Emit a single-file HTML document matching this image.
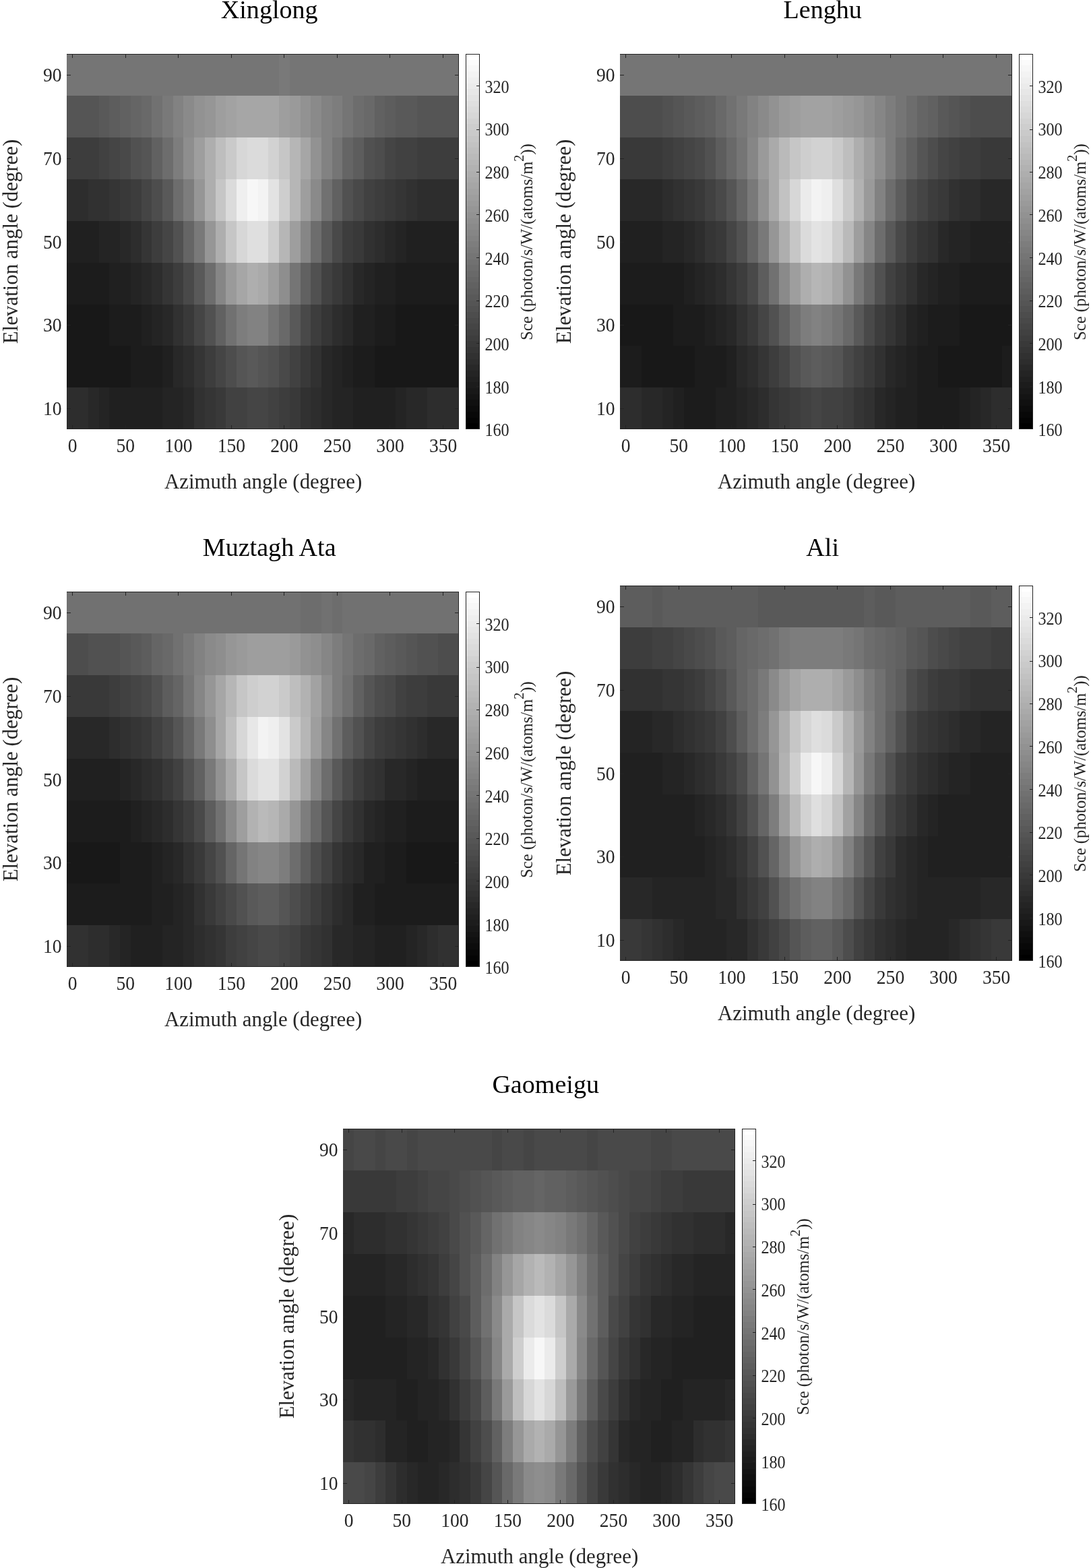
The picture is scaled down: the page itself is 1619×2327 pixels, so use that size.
<!DOCTYPE html>
<html lang="en"><head><meta charset="utf-8">
<title>Sodium laser guide star return flux maps</title>
<style>
html,body{margin:0;padding:0;background:#fff;}
body{width:1619px;height:2327px;overflow:hidden;}
svg{display:block;}
text{font-family:"Liberation Serif","DejaVu Serif",serif;fill:#262626;}
.ti{font-size:38.1px;fill:#000;text-anchor:middle;}
.xl{font-size:30.9px;text-anchor:middle;}
.tk{font-size:27.6px;}
.xt{text-anchor:middle;}
.yt{text-anchor:end;}
.ct{font-size:24.2px;}
.cl{font-size:24.7px;text-anchor:middle;}
.hm{shape-rendering:crispEdges;}
.ax{fill:none;stroke:#232323;stroke-width:1;shape-rendering:crispEdges;}
</style></head><body>
<svg width="1619" height="2327" viewBox="0 0 1619 2327" role="img" aria-label="Return flux maps for five sites">
<g transform="translate(99,80)">
<text class="ti" x="300.7" y="-53.4">Xinglong</text>
<g class="hm">
<rect x="0" y="0" width="315" height="62" fill="#757575"/>
<rect x="315" y="0" width="16" height="62" fill="#797979"/>
<rect x="331" y="0" width="251" height="62" fill="#757575"/>
<rect x="0" y="62" width="48" height="62" fill="#555555"/>
<rect x="48" y="62" width="15" height="62" fill="#595959"/>
<rect x="63" y="62" width="16" height="62" fill="#5d5d5d"/>
<rect x="79" y="62" width="16" height="62" fill="#616161"/>
<rect x="95" y="62" width="16" height="62" fill="#656565"/>
<rect x="111" y="62" width="15" height="62" fill="#696969"/>
<rect x="126" y="62" width="16" height="62" fill="#717171"/>
<rect x="142" y="62" width="16" height="62" fill="#797979"/>
<rect x="158" y="62" width="15" height="62" fill="#828282"/>
<rect x="173" y="62" width="16" height="62" fill="#8a8a8a"/>
<rect x="189" y="62" width="16" height="62" fill="#929292"/>
<rect x="205" y="62" width="16" height="62" fill="#969696"/>
<rect x="221" y="62" width="15" height="62" fill="#9e9e9e"/>
<rect x="236" y="62" width="16" height="62" fill="#a2a2a2"/>
<rect x="252" y="62" width="63" height="62" fill="#a6a6a6"/>
<rect x="315" y="62" width="16" height="62" fill="#9e9e9e"/>
<rect x="331" y="62" width="16" height="62" fill="#9a9a9a"/>
<rect x="347" y="62" width="15" height="62" fill="#929292"/>
<rect x="362" y="62" width="16" height="62" fill="#8a8a8a"/>
<rect x="378" y="62" width="16" height="62" fill="#828282"/>
<rect x="394" y="62" width="15" height="62" fill="#7d7d7d"/>
<rect x="409" y="62" width="16" height="62" fill="#757575"/>
<rect x="425" y="62" width="16" height="62" fill="#6d6d6d"/>
<rect x="441" y="62" width="16" height="62" fill="#696969"/>
<rect x="457" y="62" width="15" height="62" fill="#616161"/>
<rect x="472" y="62" width="16" height="62" fill="#5d5d5d"/>
<rect x="488" y="62" width="32" height="62" fill="#595959"/>
<rect x="520" y="62" width="62" height="62" fill="#555555"/>
<rect x="0" y="124" width="48" height="62" fill="#3d3d3d"/>
<rect x="48" y="124" width="15" height="62" fill="#414141"/>
<rect x="63" y="124" width="16" height="62" fill="#454545"/>
<rect x="79" y="124" width="16" height="62" fill="#494949"/>
<rect x="95" y="124" width="16" height="62" fill="#515151"/>
<rect x="111" y="124" width="15" height="62" fill="#555555"/>
<rect x="126" y="124" width="16" height="62" fill="#616161"/>
<rect x="142" y="124" width="16" height="62" fill="#6d6d6d"/>
<rect x="158" y="124" width="15" height="62" fill="#7d7d7d"/>
<rect x="173" y="124" width="16" height="62" fill="#8e8e8e"/>
<rect x="189" y="124" width="16" height="62" fill="#9e9e9e"/>
<rect x="205" y="124" width="16" height="62" fill="#aeaeae"/>
<rect x="221" y="124" width="15" height="62" fill="#bebebe"/>
<rect x="236" y="124" width="16" height="62" fill="#cacaca"/>
<rect x="252" y="124" width="16" height="62" fill="#d7d7d7"/>
<rect x="268" y="124" width="31" height="62" fill="#dbdbdb"/>
<rect x="299" y="124" width="16" height="62" fill="#d2d2d2"/>
<rect x="315" y="124" width="16" height="62" fill="#c6c6c6"/>
<rect x="331" y="124" width="16" height="62" fill="#b6b6b6"/>
<rect x="347" y="124" width="15" height="62" fill="#a6a6a6"/>
<rect x="362" y="124" width="16" height="62" fill="#929292"/>
<rect x="378" y="124" width="16" height="62" fill="#828282"/>
<rect x="394" y="124" width="15" height="62" fill="#757575"/>
<rect x="409" y="124" width="16" height="62" fill="#656565"/>
<rect x="425" y="124" width="16" height="62" fill="#5d5d5d"/>
<rect x="441" y="124" width="16" height="62" fill="#515151"/>
<rect x="457" y="124" width="15" height="62" fill="#4d4d4d"/>
<rect x="472" y="124" width="16" height="62" fill="#454545"/>
<rect x="488" y="124" width="32" height="62" fill="#414141"/>
<rect x="520" y="124" width="62" height="62" fill="#3d3d3d"/>
<rect x="0" y="186" width="32" height="62" fill="#2d2d2d"/>
<rect x="32" y="186" width="31" height="62" fill="#313131"/>
<rect x="63" y="186" width="16" height="62" fill="#353535"/>
<rect x="79" y="186" width="16" height="62" fill="#393939"/>
<rect x="95" y="186" width="16" height="62" fill="#3d3d3d"/>
<rect x="111" y="186" width="15" height="62" fill="#454545"/>
<rect x="126" y="186" width="16" height="62" fill="#4d4d4d"/>
<rect x="142" y="186" width="16" height="62" fill="#595959"/>
<rect x="158" y="186" width="15" height="62" fill="#6d6d6d"/>
<rect x="173" y="186" width="16" height="62" fill="#7d7d7d"/>
<rect x="189" y="186" width="16" height="62" fill="#969696"/>
<rect x="205" y="186" width="16" height="62" fill="#aeaeae"/>
<rect x="221" y="186" width="15" height="62" fill="#c6c6c6"/>
<rect x="236" y="186" width="16" height="62" fill="#dbdbdb"/>
<rect x="252" y="186" width="16" height="62" fill="#efefef"/>
<rect x="268" y="186" width="16" height="62" fill="#f7f7f7"/>
<rect x="284" y="186" width="15" height="62" fill="#f3f3f3"/>
<rect x="299" y="186" width="16" height="62" fill="#e3e3e3"/>
<rect x="315" y="186" width="16" height="62" fill="#cecece"/>
<rect x="331" y="186" width="16" height="62" fill="#b6b6b6"/>
<rect x="347" y="186" width="15" height="62" fill="#9e9e9e"/>
<rect x="362" y="186" width="16" height="62" fill="#8a8a8a"/>
<rect x="378" y="186" width="16" height="62" fill="#717171"/>
<rect x="394" y="186" width="15" height="62" fill="#616161"/>
<rect x="409" y="186" width="16" height="62" fill="#515151"/>
<rect x="425" y="186" width="16" height="62" fill="#494949"/>
<rect x="441" y="186" width="16" height="62" fill="#414141"/>
<rect x="457" y="186" width="15" height="62" fill="#3d3d3d"/>
<rect x="472" y="186" width="16" height="62" fill="#393939"/>
<rect x="488" y="186" width="16" height="62" fill="#353535"/>
<rect x="504" y="186" width="16" height="62" fill="#313131"/>
<rect x="520" y="186" width="62" height="62" fill="#2d2d2d"/>
<rect x="0" y="248" width="48" height="62" fill="#202020"/>
<rect x="48" y="248" width="31" height="62" fill="#242424"/>
<rect x="79" y="248" width="16" height="62" fill="#282828"/>
<rect x="95" y="248" width="16" height="62" fill="#2d2d2d"/>
<rect x="111" y="248" width="15" height="62" fill="#353535"/>
<rect x="126" y="248" width="16" height="62" fill="#3d3d3d"/>
<rect x="142" y="248" width="16" height="62" fill="#454545"/>
<rect x="158" y="248" width="15" height="62" fill="#515151"/>
<rect x="173" y="248" width="16" height="62" fill="#656565"/>
<rect x="189" y="248" width="16" height="62" fill="#797979"/>
<rect x="205" y="248" width="16" height="62" fill="#969696"/>
<rect x="221" y="248" width="15" height="62" fill="#aeaeae"/>
<rect x="236" y="248" width="16" height="62" fill="#c6c6c6"/>
<rect x="252" y="248" width="16" height="62" fill="#d7d7d7"/>
<rect x="268" y="248" width="31" height="62" fill="#dfdfdf"/>
<rect x="299" y="248" width="16" height="62" fill="#cecece"/>
<rect x="315" y="248" width="16" height="62" fill="#b6b6b6"/>
<rect x="331" y="248" width="16" height="62" fill="#9e9e9e"/>
<rect x="347" y="248" width="15" height="62" fill="#868686"/>
<rect x="362" y="248" width="16" height="62" fill="#6d6d6d"/>
<rect x="378" y="248" width="16" height="62" fill="#595959"/>
<rect x="394" y="248" width="15" height="62" fill="#494949"/>
<rect x="409" y="248" width="16" height="62" fill="#3d3d3d"/>
<rect x="425" y="248" width="16" height="62" fill="#393939"/>
<rect x="441" y="248" width="16" height="62" fill="#313131"/>
<rect x="457" y="248" width="15" height="62" fill="#2d2d2d"/>
<rect x="472" y="248" width="16" height="62" fill="#282828"/>
<rect x="488" y="248" width="16" height="62" fill="#242424"/>
<rect x="504" y="248" width="78" height="62" fill="#202020"/>
<rect x="0" y="310" width="63" height="62" fill="#1c1c1c"/>
<rect x="63" y="310" width="32" height="62" fill="#202020"/>
<rect x="95" y="310" width="16" height="62" fill="#242424"/>
<rect x="111" y="310" width="15" height="62" fill="#282828"/>
<rect x="126" y="310" width="16" height="62" fill="#2d2d2d"/>
<rect x="142" y="310" width="16" height="62" fill="#353535"/>
<rect x="158" y="310" width="15" height="62" fill="#3d3d3d"/>
<rect x="173" y="310" width="16" height="62" fill="#494949"/>
<rect x="189" y="310" width="16" height="62" fill="#595959"/>
<rect x="205" y="310" width="16" height="62" fill="#6d6d6d"/>
<rect x="221" y="310" width="15" height="62" fill="#868686"/>
<rect x="236" y="310" width="16" height="62" fill="#9a9a9a"/>
<rect x="252" y="310" width="16" height="62" fill="#a6a6a6"/>
<rect x="268" y="310" width="16" height="62" fill="#aeaeae"/>
<rect x="284" y="310" width="15" height="62" fill="#aaaaaa"/>
<rect x="299" y="310" width="16" height="62" fill="#9e9e9e"/>
<rect x="315" y="310" width="16" height="62" fill="#8e8e8e"/>
<rect x="331" y="310" width="16" height="62" fill="#757575"/>
<rect x="347" y="310" width="15" height="62" fill="#616161"/>
<rect x="362" y="310" width="16" height="62" fill="#515151"/>
<rect x="378" y="310" width="16" height="62" fill="#414141"/>
<rect x="394" y="310" width="15" height="62" fill="#393939"/>
<rect x="409" y="310" width="16" height="62" fill="#313131"/>
<rect x="425" y="310" width="16" height="62" fill="#282828"/>
<rect x="441" y="310" width="16" height="62" fill="#242424"/>
<rect x="457" y="310" width="31" height="62" fill="#202020"/>
<rect x="488" y="310" width="94" height="62" fill="#1c1c1c"/>
<rect x="0" y="372" width="63" height="61" fill="#181818"/>
<rect x="63" y="372" width="48" height="61" fill="#1c1c1c"/>
<rect x="111" y="372" width="15" height="61" fill="#202020"/>
<rect x="126" y="372" width="16" height="61" fill="#242424"/>
<rect x="142" y="372" width="16" height="61" fill="#282828"/>
<rect x="158" y="372" width="15" height="61" fill="#313131"/>
<rect x="173" y="372" width="16" height="61" fill="#393939"/>
<rect x="189" y="372" width="16" height="61" fill="#454545"/>
<rect x="205" y="372" width="16" height="61" fill="#515151"/>
<rect x="221" y="372" width="15" height="61" fill="#616161"/>
<rect x="236" y="372" width="16" height="61" fill="#717171"/>
<rect x="252" y="372" width="16" height="61" fill="#7d7d7d"/>
<rect x="268" y="372" width="31" height="61" fill="#828282"/>
<rect x="299" y="372" width="16" height="61" fill="#757575"/>
<rect x="315" y="372" width="16" height="61" fill="#696969"/>
<rect x="331" y="372" width="16" height="61" fill="#595959"/>
<rect x="347" y="372" width="15" height="61" fill="#494949"/>
<rect x="362" y="372" width="16" height="61" fill="#3d3d3d"/>
<rect x="378" y="372" width="16" height="61" fill="#353535"/>
<rect x="394" y="372" width="15" height="61" fill="#2d2d2d"/>
<rect x="409" y="372" width="16" height="61" fill="#282828"/>
<rect x="425" y="372" width="32" height="61" fill="#202020"/>
<rect x="457" y="372" width="31" height="61" fill="#1c1c1c"/>
<rect x="488" y="372" width="94" height="61" fill="#181818"/>
<rect x="0" y="433" width="95" height="62" fill="#181818"/>
<rect x="95" y="433" width="47" height="62" fill="#1c1c1c"/>
<rect x="142" y="433" width="16" height="62" fill="#202020"/>
<rect x="158" y="433" width="15" height="62" fill="#282828"/>
<rect x="173" y="433" width="16" height="62" fill="#2d2d2d"/>
<rect x="189" y="433" width="16" height="62" fill="#353535"/>
<rect x="205" y="433" width="16" height="62" fill="#3d3d3d"/>
<rect x="221" y="433" width="15" height="62" fill="#454545"/>
<rect x="236" y="433" width="16" height="62" fill="#4d4d4d"/>
<rect x="252" y="433" width="16" height="62" fill="#555555"/>
<rect x="268" y="433" width="16" height="62" fill="#595959"/>
<rect x="284" y="433" width="15" height="62" fill="#555555"/>
<rect x="299" y="433" width="16" height="62" fill="#515151"/>
<rect x="315" y="433" width="16" height="62" fill="#494949"/>
<rect x="331" y="433" width="16" height="62" fill="#414141"/>
<rect x="347" y="433" width="15" height="62" fill="#393939"/>
<rect x="362" y="433" width="16" height="62" fill="#313131"/>
<rect x="378" y="433" width="16" height="62" fill="#282828"/>
<rect x="394" y="433" width="15" height="62" fill="#242424"/>
<rect x="409" y="433" width="16" height="62" fill="#202020"/>
<rect x="425" y="433" width="32" height="62" fill="#1c1c1c"/>
<rect x="457" y="433" width="125" height="62" fill="#181818"/>
<rect x="0" y="495" width="32" height="62" fill="#2d2d2d"/>
<rect x="32" y="495" width="16" height="62" fill="#282828"/>
<rect x="48" y="495" width="15" height="62" fill="#242424"/>
<rect x="63" y="495" width="79" height="62" fill="#202020"/>
<rect x="142" y="495" width="31" height="62" fill="#242424"/>
<rect x="173" y="495" width="16" height="62" fill="#282828"/>
<rect x="189" y="495" width="16" height="62" fill="#313131"/>
<rect x="205" y="495" width="16" height="62" fill="#353535"/>
<rect x="221" y="495" width="15" height="62" fill="#393939"/>
<rect x="236" y="495" width="32" height="62" fill="#414141"/>
<rect x="268" y="495" width="31" height="62" fill="#454545"/>
<rect x="299" y="495" width="16" height="62" fill="#414141"/>
<rect x="315" y="495" width="16" height="62" fill="#3d3d3d"/>
<rect x="331" y="495" width="16" height="62" fill="#393939"/>
<rect x="347" y="495" width="15" height="62" fill="#313131"/>
<rect x="362" y="495" width="16" height="62" fill="#2d2d2d"/>
<rect x="378" y="495" width="16" height="62" fill="#282828"/>
<rect x="394" y="495" width="31" height="62" fill="#242424"/>
<rect x="425" y="495" width="63" height="62" fill="#202020"/>
<rect x="488" y="495" width="16" height="62" fill="#242424"/>
<rect x="504" y="495" width="31" height="62" fill="#282828"/>
<rect x="535" y="495" width="47" height="62" fill="#2d2d2d"/>
</g>
<path class="ax" d="M0 .5H581.5V556.5H0M8.5 557v-6M8.5 0v6M87.5 557v-6M87.5 0v6M165.5 557v-6M165.5 0v6M244.5 557v-6M244.5 0v6M322.5 557v-6M322.5 0v6M401.5 557v-6M401.5 0v6M479.5 557v-6M479.5 0v6M558.5 557v-6M558.5 0v6M0 526.5h6M582 526.5h-6M0 402.5h6M582 402.5h-6M0 279.5h6M582 279.5h-6M0 155.5h6M582 155.5h-6M0 31.5h6M582 31.5h-6"/>
<g class="tk xt">
<text transform="translate(8.7,591.4) scale(1,1.10)">0</text>
<text transform="translate(87.26,591.4) scale(1,1.10)">50</text>
<text transform="translate(165.82,591.4) scale(1,1.10)">100</text>
<text transform="translate(244.38,591.4) scale(1,1.10)">150</text>
<text transform="translate(322.94,591.4) scale(1,1.10)">200</text>
<text transform="translate(401.5,591.4) scale(1,1.10)">250</text>
<text transform="translate(480.06,591.4) scale(1,1.10)">300</text>
<text transform="translate(558.62,591.4) scale(1,1.10)">350</text>
</g>
<g class="tk yt">
<text transform="translate(-7.5,535.8) scale(1,1.10)">10</text>
<text transform="translate(-7.5,412.3) scale(1,1.10)">30</text>
<text transform="translate(-7.5,288.8) scale(1,1.10)">50</text>
<text transform="translate(-7.5,164.8) scale(1,1.10)">70</text>
<text transform="translate(-7.5,40.8) scale(1,1.10)">90</text>
</g>
<text class="xl" x="291.6" y="644.6">Azimuth angle (degree)</text>
<text class="xl" transform="translate(-72.6,278.5) rotate(-90)">Elevation angle (degree)</text>
<g class="hm"><rect x="592" y="548" width="21" height="9" fill="#000000"/><rect x="592" y="540" width="21" height="8" fill="#040404"/><rect x="592" y="531" width="21" height="9" fill="#080808"/><rect x="592" y="522" width="21" height="9" fill="#0c0c0c"/><rect x="592" y="513" width="21" height="9" fill="#101010"/><rect x="592" y="505" width="21" height="8" fill="#141414"/><rect x="592" y="496" width="21" height="9" fill="#181818"/><rect x="592" y="487" width="21" height="9" fill="#1c1c1c"/><rect x="592" y="479" width="21" height="8" fill="#202020"/><rect x="592" y="470" width="21" height="9" fill="#242424"/><rect x="592" y="461" width="21" height="9" fill="#282828"/><rect x="592" y="453" width="21" height="8" fill="#2d2d2d"/><rect x="592" y="444" width="21" height="9" fill="#313131"/><rect x="592" y="435" width="21" height="9" fill="#353535"/><rect x="592" y="426" width="21" height="9" fill="#393939"/><rect x="592" y="418" width="21" height="8" fill="#3d3d3d"/><rect x="592" y="409" width="21" height="9" fill="#414141"/><rect x="592" y="400" width="21" height="9" fill="#454545"/><rect x="592" y="392" width="21" height="8" fill="#494949"/><rect x="592" y="383" width="21" height="9" fill="#4d4d4d"/><rect x="592" y="374" width="21" height="9" fill="#515151"/><rect x="592" y="366" width="21" height="8" fill="#555555"/><rect x="592" y="357" width="21" height="9" fill="#595959"/><rect x="592" y="348" width="21" height="9" fill="#5d5d5d"/><rect x="592" y="339" width="21" height="9" fill="#616161"/><rect x="592" y="331" width="21" height="8" fill="#656565"/><rect x="592" y="322" width="21" height="9" fill="#696969"/><rect x="592" y="313" width="21" height="9" fill="#6d6d6d"/><rect x="592" y="305" width="21" height="8" fill="#717171"/><rect x="592" y="296" width="21" height="9" fill="#757575"/><rect x="592" y="287" width="21" height="9" fill="#797979"/><rect x="592" y="278" width="21" height="9" fill="#7d7d7d"/><rect x="592" y="270" width="21" height="8" fill="#828282"/><rect x="592" y="261" width="21" height="9" fill="#868686"/><rect x="592" y="252" width="21" height="9" fill="#8a8a8a"/><rect x="592" y="244" width="21" height="8" fill="#8e8e8e"/><rect x="592" y="235" width="21" height="9" fill="#929292"/><rect x="592" y="226" width="21" height="9" fill="#969696"/><rect x="592" y="218" width="21" height="8" fill="#9a9a9a"/><rect x="592" y="209" width="21" height="9" fill="#9e9e9e"/><rect x="592" y="200" width="21" height="9" fill="#a2a2a2"/><rect x="592" y="191" width="21" height="9" fill="#a6a6a6"/><rect x="592" y="183" width="21" height="8" fill="#aaaaaa"/><rect x="592" y="174" width="21" height="9" fill="#aeaeae"/><rect x="592" y="165" width="21" height="9" fill="#b2b2b2"/><rect x="592" y="157" width="21" height="8" fill="#b6b6b6"/><rect x="592" y="148" width="21" height="9" fill="#bababa"/><rect x="592" y="139" width="21" height="9" fill="#bebebe"/><rect x="592" y="131" width="21" height="8" fill="#c2c2c2"/><rect x="592" y="122" width="21" height="9" fill="#c6c6c6"/><rect x="592" y="113" width="21" height="9" fill="#cacaca"/><rect x="592" y="104" width="21" height="9" fill="#cecece"/><rect x="592" y="96" width="21" height="8" fill="#d2d2d2"/><rect x="592" y="87" width="21" height="9" fill="#d7d7d7"/><rect x="592" y="78" width="21" height="9" fill="#dbdbdb"/><rect x="592" y="70" width="21" height="8" fill="#dfdfdf"/><rect x="592" y="61" width="21" height="9" fill="#e3e3e3"/><rect x="592" y="52" width="21" height="9" fill="#e7e7e7"/><rect x="592" y="44" width="21" height="8" fill="#ebebeb"/><rect x="592" y="35" width="21" height="9" fill="#efefef"/><rect x="592" y="26" width="21" height="9" fill="#f3f3f3"/><rect x="592" y="17" width="21" height="9" fill="#f7f7f7"/><rect x="592" y="9" width="21" height="8" fill="#fbfbfb"/><rect x="592" y="0" width="21" height="9" fill="#ffffff"/></g>
<rect class="ax" x="592.5" y=".5" width="20" height="556"/>
<g class="ct">
<text transform="translate(620.4,567.3) scale(1,1.10)">160</text>
<text transform="translate(620.4,503.61) scale(1,1.10)">180</text>
<text transform="translate(620.4,439.91) scale(1,1.10)">200</text>
<text transform="translate(620.4,376.22) scale(1,1.10)">220</text>
<text transform="translate(620.4,312.52) scale(1,1.10)">240</text>
<text transform="translate(620.4,248.83) scale(1,1.10)">260</text>
<text transform="translate(620.4,185.13) scale(1,1.10)">280</text>
<text transform="translate(620.4,121.44) scale(1,1.10)">300</text>
<text transform="translate(620.4,57.74) scale(1,1.10)">320</text>
</g>
<path class="ax" d="M613 493.5h-5M613 429.5h-5M613 366.5h-5M613 302.5h-5M613 238.5h-5M613 175.5h-5M613 112.5h-5M613 47.5h-5"/>
<text class="cl" transform="translate(691,279.1) rotate(-90)">Sce (photon/s/W/(atoms/m<tspan dy="-13" font-size="20">2</tspan><tspan dy="13">))</tspan></text>
</g>
<g transform="translate(920,80)">
<text class="ti" x="300.7" y="-53.4">Lenghu</text>
<g class="hm">
<rect x="0" y="0" width="582" height="62" fill="#757575"/>
<rect x="0" y="62" width="63" height="62" fill="#4d4d4d"/>
<rect x="63" y="62" width="16" height="62" fill="#515151"/>
<rect x="79" y="62" width="16" height="62" fill="#555555"/>
<rect x="95" y="62" width="16" height="62" fill="#595959"/>
<rect x="111" y="62" width="15" height="62" fill="#5d5d5d"/>
<rect x="126" y="62" width="16" height="62" fill="#616161"/>
<rect x="142" y="62" width="16" height="62" fill="#696969"/>
<rect x="158" y="62" width="15" height="62" fill="#717171"/>
<rect x="173" y="62" width="16" height="62" fill="#797979"/>
<rect x="189" y="62" width="16" height="62" fill="#828282"/>
<rect x="205" y="62" width="16" height="62" fill="#8a8a8a"/>
<rect x="221" y="62" width="15" height="62" fill="#929292"/>
<rect x="236" y="62" width="16" height="62" fill="#9a9a9a"/>
<rect x="252" y="62" width="16" height="62" fill="#9e9e9e"/>
<rect x="268" y="62" width="47" height="62" fill="#a2a2a2"/>
<rect x="315" y="62" width="16" height="62" fill="#9e9e9e"/>
<rect x="331" y="62" width="16" height="62" fill="#9a9a9a"/>
<rect x="347" y="62" width="15" height="62" fill="#969696"/>
<rect x="362" y="62" width="16" height="62" fill="#8e8e8e"/>
<rect x="378" y="62" width="16" height="62" fill="#868686"/>
<rect x="394" y="62" width="15" height="62" fill="#7d7d7d"/>
<rect x="409" y="62" width="16" height="62" fill="#757575"/>
<rect x="425" y="62" width="16" height="62" fill="#6d6d6d"/>
<rect x="441" y="62" width="16" height="62" fill="#656565"/>
<rect x="457" y="62" width="15" height="62" fill="#616161"/>
<rect x="472" y="62" width="16" height="62" fill="#595959"/>
<rect x="488" y="62" width="16" height="62" fill="#555555"/>
<rect x="504" y="62" width="16" height="62" fill="#515151"/>
<rect x="520" y="62" width="62" height="62" fill="#4d4d4d"/>
<rect x="0" y="124" width="63" height="62" fill="#393939"/>
<rect x="63" y="124" width="16" height="62" fill="#3d3d3d"/>
<rect x="79" y="124" width="16" height="62" fill="#414141"/>
<rect x="95" y="124" width="16" height="62" fill="#454545"/>
<rect x="111" y="124" width="15" height="62" fill="#494949"/>
<rect x="126" y="124" width="16" height="62" fill="#515151"/>
<rect x="142" y="124" width="16" height="62" fill="#5d5d5d"/>
<rect x="158" y="124" width="15" height="62" fill="#696969"/>
<rect x="173" y="124" width="16" height="62" fill="#757575"/>
<rect x="189" y="124" width="16" height="62" fill="#868686"/>
<rect x="205" y="124" width="16" height="62" fill="#9a9a9a"/>
<rect x="221" y="124" width="15" height="62" fill="#aaaaaa"/>
<rect x="236" y="124" width="16" height="62" fill="#bababa"/>
<rect x="252" y="124" width="16" height="62" fill="#c6c6c6"/>
<rect x="268" y="124" width="16" height="62" fill="#cecece"/>
<rect x="284" y="124" width="31" height="62" fill="#d2d2d2"/>
<rect x="315" y="124" width="16" height="62" fill="#cacaca"/>
<rect x="331" y="124" width="16" height="62" fill="#bebebe"/>
<rect x="347" y="124" width="15" height="62" fill="#aeaeae"/>
<rect x="362" y="124" width="16" height="62" fill="#9e9e9e"/>
<rect x="378" y="124" width="16" height="62" fill="#8e8e8e"/>
<rect x="394" y="124" width="15" height="62" fill="#7d7d7d"/>
<rect x="409" y="124" width="16" height="62" fill="#6d6d6d"/>
<rect x="425" y="124" width="16" height="62" fill="#616161"/>
<rect x="441" y="124" width="16" height="62" fill="#555555"/>
<rect x="457" y="124" width="15" height="62" fill="#4d4d4d"/>
<rect x="472" y="124" width="16" height="62" fill="#454545"/>
<rect x="488" y="124" width="16" height="62" fill="#414141"/>
<rect x="504" y="124" width="31" height="62" fill="#3d3d3d"/>
<rect x="535" y="124" width="47" height="62" fill="#393939"/>
<rect x="0" y="186" width="63" height="62" fill="#282828"/>
<rect x="63" y="186" width="16" height="62" fill="#2d2d2d"/>
<rect x="79" y="186" width="16" height="62" fill="#313131"/>
<rect x="95" y="186" width="16" height="62" fill="#353535"/>
<rect x="111" y="186" width="15" height="62" fill="#393939"/>
<rect x="126" y="186" width="16" height="62" fill="#414141"/>
<rect x="142" y="186" width="16" height="62" fill="#494949"/>
<rect x="158" y="186" width="15" height="62" fill="#555555"/>
<rect x="173" y="186" width="16" height="62" fill="#656565"/>
<rect x="189" y="186" width="16" height="62" fill="#797979"/>
<rect x="205" y="186" width="16" height="62" fill="#929292"/>
<rect x="221" y="186" width="15" height="62" fill="#aaaaaa"/>
<rect x="236" y="186" width="16" height="62" fill="#c2c2c2"/>
<rect x="252" y="186" width="16" height="62" fill="#d7d7d7"/>
<rect x="268" y="186" width="16" height="62" fill="#ebebeb"/>
<rect x="284" y="186" width="15" height="62" fill="#f3f3f3"/>
<rect x="299" y="186" width="16" height="62" fill="#efefef"/>
<rect x="315" y="186" width="16" height="62" fill="#dfdfdf"/>
<rect x="331" y="186" width="16" height="62" fill="#cacaca"/>
<rect x="347" y="186" width="15" height="62" fill="#b2b2b2"/>
<rect x="362" y="186" width="16" height="62" fill="#9a9a9a"/>
<rect x="378" y="186" width="16" height="62" fill="#828282"/>
<rect x="394" y="186" width="15" height="62" fill="#6d6d6d"/>
<rect x="409" y="186" width="16" height="62" fill="#5d5d5d"/>
<rect x="425" y="186" width="16" height="62" fill="#4d4d4d"/>
<rect x="441" y="186" width="16" height="62" fill="#454545"/>
<rect x="457" y="186" width="15" height="62" fill="#3d3d3d"/>
<rect x="472" y="186" width="16" height="62" fill="#393939"/>
<rect x="488" y="186" width="16" height="62" fill="#313131"/>
<rect x="504" y="186" width="31" height="62" fill="#2d2d2d"/>
<rect x="535" y="186" width="47" height="62" fill="#282828"/>
<rect x="0" y="248" width="63" height="62" fill="#202020"/>
<rect x="63" y="248" width="32" height="62" fill="#242424"/>
<rect x="95" y="248" width="16" height="62" fill="#282828"/>
<rect x="111" y="248" width="15" height="62" fill="#2d2d2d"/>
<rect x="126" y="248" width="16" height="62" fill="#353535"/>
<rect x="142" y="248" width="16" height="62" fill="#393939"/>
<rect x="158" y="248" width="15" height="62" fill="#454545"/>
<rect x="173" y="248" width="16" height="62" fill="#515151"/>
<rect x="189" y="248" width="16" height="62" fill="#656565"/>
<rect x="205" y="248" width="16" height="62" fill="#797979"/>
<rect x="221" y="248" width="15" height="62" fill="#969696"/>
<rect x="236" y="248" width="16" height="62" fill="#aeaeae"/>
<rect x="252" y="248" width="16" height="62" fill="#c6c6c6"/>
<rect x="268" y="248" width="16" height="62" fill="#dbdbdb"/>
<rect x="284" y="248" width="15" height="62" fill="#e3e3e3"/>
<rect x="299" y="248" width="16" height="62" fill="#dfdfdf"/>
<rect x="315" y="248" width="16" height="62" fill="#cecece"/>
<rect x="331" y="248" width="16" height="62" fill="#bababa"/>
<rect x="347" y="248" width="15" height="62" fill="#9e9e9e"/>
<rect x="362" y="248" width="16" height="62" fill="#868686"/>
<rect x="378" y="248" width="16" height="62" fill="#6d6d6d"/>
<rect x="394" y="248" width="15" height="62" fill="#595959"/>
<rect x="409" y="248" width="16" height="62" fill="#494949"/>
<rect x="425" y="248" width="16" height="62" fill="#3d3d3d"/>
<rect x="441" y="248" width="16" height="62" fill="#353535"/>
<rect x="457" y="248" width="15" height="62" fill="#313131"/>
<rect x="472" y="248" width="16" height="62" fill="#282828"/>
<rect x="488" y="248" width="32" height="62" fill="#242424"/>
<rect x="520" y="248" width="62" height="62" fill="#202020"/>
<rect x="0" y="310" width="95" height="62" fill="#1c1c1c"/>
<rect x="95" y="310" width="16" height="62" fill="#202020"/>
<rect x="111" y="310" width="15" height="62" fill="#242424"/>
<rect x="126" y="310" width="16" height="62" fill="#282828"/>
<rect x="142" y="310" width="16" height="62" fill="#2d2d2d"/>
<rect x="158" y="310" width="15" height="62" fill="#353535"/>
<rect x="173" y="310" width="16" height="62" fill="#3d3d3d"/>
<rect x="189" y="310" width="16" height="62" fill="#494949"/>
<rect x="205" y="310" width="16" height="62" fill="#5d5d5d"/>
<rect x="221" y="310" width="15" height="62" fill="#717171"/>
<rect x="236" y="310" width="16" height="62" fill="#8a8a8a"/>
<rect x="252" y="310" width="16" height="62" fill="#9e9e9e"/>
<rect x="268" y="310" width="16" height="62" fill="#aeaeae"/>
<rect x="284" y="310" width="15" height="62" fill="#b6b6b6"/>
<rect x="299" y="310" width="16" height="62" fill="#b2b2b2"/>
<rect x="315" y="310" width="16" height="62" fill="#a6a6a6"/>
<rect x="331" y="310" width="16" height="62" fill="#929292"/>
<rect x="347" y="310" width="15" height="62" fill="#797979"/>
<rect x="362" y="310" width="16" height="62" fill="#656565"/>
<rect x="378" y="310" width="16" height="62" fill="#515151"/>
<rect x="394" y="310" width="15" height="62" fill="#414141"/>
<rect x="409" y="310" width="16" height="62" fill="#393939"/>
<rect x="425" y="310" width="16" height="62" fill="#313131"/>
<rect x="441" y="310" width="16" height="62" fill="#282828"/>
<rect x="457" y="310" width="15" height="62" fill="#242424"/>
<rect x="472" y="310" width="32" height="62" fill="#202020"/>
<rect x="504" y="310" width="78" height="62" fill="#1c1c1c"/>
<rect x="0" y="372" width="79" height="61" fill="#181818"/>
<rect x="79" y="372" width="47" height="61" fill="#1c1c1c"/>
<rect x="126" y="372" width="16" height="61" fill="#202020"/>
<rect x="142" y="372" width="16" height="61" fill="#242424"/>
<rect x="158" y="372" width="15" height="61" fill="#282828"/>
<rect x="173" y="372" width="16" height="61" fill="#313131"/>
<rect x="189" y="372" width="16" height="61" fill="#393939"/>
<rect x="205" y="372" width="16" height="61" fill="#454545"/>
<rect x="221" y="372" width="15" height="61" fill="#515151"/>
<rect x="236" y="372" width="16" height="61" fill="#616161"/>
<rect x="252" y="372" width="16" height="61" fill="#717171"/>
<rect x="268" y="372" width="16" height="61" fill="#7d7d7d"/>
<rect x="284" y="372" width="15" height="61" fill="#828282"/>
<rect x="299" y="372" width="16" height="61" fill="#7d7d7d"/>
<rect x="315" y="372" width="16" height="61" fill="#757575"/>
<rect x="331" y="372" width="16" height="61" fill="#696969"/>
<rect x="347" y="372" width="15" height="61" fill="#595959"/>
<rect x="362" y="372" width="16" height="61" fill="#494949"/>
<rect x="378" y="372" width="16" height="61" fill="#3d3d3d"/>
<rect x="394" y="372" width="15" height="61" fill="#353535"/>
<rect x="409" y="372" width="16" height="61" fill="#2d2d2d"/>
<rect x="425" y="372" width="16" height="61" fill="#242424"/>
<rect x="441" y="372" width="16" height="61" fill="#202020"/>
<rect x="457" y="372" width="47" height="61" fill="#1c1c1c"/>
<rect x="504" y="372" width="78" height="61" fill="#181818"/>
<rect x="0" y="433" width="32" height="62" fill="#1c1c1c"/>
<rect x="32" y="433" width="79" height="62" fill="#181818"/>
<rect x="111" y="433" width="47" height="62" fill="#1c1c1c"/>
<rect x="158" y="433" width="15" height="62" fill="#202020"/>
<rect x="173" y="433" width="16" height="62" fill="#282828"/>
<rect x="189" y="433" width="16" height="62" fill="#2d2d2d"/>
<rect x="205" y="433" width="16" height="62" fill="#353535"/>
<rect x="221" y="433" width="15" height="62" fill="#3d3d3d"/>
<rect x="236" y="433" width="16" height="62" fill="#454545"/>
<rect x="252" y="433" width="16" height="62" fill="#515151"/>
<rect x="268" y="433" width="16" height="62" fill="#595959"/>
<rect x="284" y="433" width="15" height="62" fill="#5d5d5d"/>
<rect x="299" y="433" width="16" height="62" fill="#595959"/>
<rect x="315" y="433" width="16" height="62" fill="#555555"/>
<rect x="331" y="433" width="16" height="62" fill="#494949"/>
<rect x="347" y="433" width="15" height="62" fill="#414141"/>
<rect x="362" y="433" width="16" height="62" fill="#393939"/>
<rect x="378" y="433" width="16" height="62" fill="#313131"/>
<rect x="394" y="433" width="15" height="62" fill="#282828"/>
<rect x="409" y="433" width="16" height="62" fill="#242424"/>
<rect x="425" y="433" width="16" height="62" fill="#202020"/>
<rect x="441" y="433" width="31" height="62" fill="#1c1c1c"/>
<rect x="472" y="433" width="95" height="62" fill="#181818"/>
<rect x="567" y="433" width="15" height="62" fill="#1c1c1c"/>
<rect x="0" y="495" width="32" height="62" fill="#2d2d2d"/>
<rect x="32" y="495" width="31" height="62" fill="#282828"/>
<rect x="63" y="495" width="16" height="62" fill="#242424"/>
<rect x="79" y="495" width="16" height="62" fill="#202020"/>
<rect x="95" y="495" width="47" height="62" fill="#1c1c1c"/>
<rect x="142" y="495" width="31" height="62" fill="#202020"/>
<rect x="173" y="495" width="16" height="62" fill="#242424"/>
<rect x="189" y="495" width="16" height="62" fill="#282828"/>
<rect x="205" y="495" width="16" height="62" fill="#2d2d2d"/>
<rect x="221" y="495" width="15" height="62" fill="#353535"/>
<rect x="236" y="495" width="16" height="62" fill="#393939"/>
<rect x="252" y="495" width="16" height="62" fill="#3d3d3d"/>
<rect x="268" y="495" width="16" height="62" fill="#414141"/>
<rect x="284" y="495" width="15" height="62" fill="#454545"/>
<rect x="299" y="495" width="32" height="62" fill="#414141"/>
<rect x="331" y="495" width="16" height="62" fill="#3d3d3d"/>
<rect x="347" y="495" width="15" height="62" fill="#353535"/>
<rect x="362" y="495" width="16" height="62" fill="#313131"/>
<rect x="378" y="495" width="16" height="62" fill="#282828"/>
<rect x="394" y="495" width="15" height="62" fill="#242424"/>
<rect x="409" y="495" width="32" height="62" fill="#202020"/>
<rect x="441" y="495" width="63" height="62" fill="#1c1c1c"/>
<rect x="504" y="495" width="16" height="62" fill="#202020"/>
<rect x="520" y="495" width="15" height="62" fill="#242424"/>
<rect x="535" y="495" width="16" height="62" fill="#282828"/>
<rect x="551" y="495" width="31" height="62" fill="#2d2d2d"/>
</g>
<path class="ax" d="M0 .5H581.5V556.5H0M8.5 557v-6M8.5 0v6M87.5 557v-6M87.5 0v6M165.5 557v-6M165.5 0v6M244.5 557v-6M244.5 0v6M322.5 557v-6M322.5 0v6M401.5 557v-6M401.5 0v6M479.5 557v-6M479.5 0v6M558.5 557v-6M558.5 0v6M0 526.5h6M582 526.5h-6M0 402.5h6M582 402.5h-6M0 279.5h6M582 279.5h-6M0 155.5h6M582 155.5h-6M0 31.5h6M582 31.5h-6"/>
<g class="tk xt">
<text transform="translate(8.7,591.4) scale(1,1.10)">0</text>
<text transform="translate(87.26,591.4) scale(1,1.10)">50</text>
<text transform="translate(165.82,591.4) scale(1,1.10)">100</text>
<text transform="translate(244.38,591.4) scale(1,1.10)">150</text>
<text transform="translate(322.94,591.4) scale(1,1.10)">200</text>
<text transform="translate(401.5,591.4) scale(1,1.10)">250</text>
<text transform="translate(480.06,591.4) scale(1,1.10)">300</text>
<text transform="translate(558.62,591.4) scale(1,1.10)">350</text>
</g>
<g class="tk yt">
<text transform="translate(-7.5,535.8) scale(1,1.10)">10</text>
<text transform="translate(-7.5,412.3) scale(1,1.10)">30</text>
<text transform="translate(-7.5,288.8) scale(1,1.10)">50</text>
<text transform="translate(-7.5,164.8) scale(1,1.10)">70</text>
<text transform="translate(-7.5,40.8) scale(1,1.10)">90</text>
</g>
<text class="xl" x="291.6" y="644.6">Azimuth angle (degree)</text>
<text class="xl" transform="translate(-72.6,278.5) rotate(-90)">Elevation angle (degree)</text>
<g class="hm"><rect x="592" y="548" width="21" height="9" fill="#000000"/><rect x="592" y="540" width="21" height="8" fill="#040404"/><rect x="592" y="531" width="21" height="9" fill="#080808"/><rect x="592" y="522" width="21" height="9" fill="#0c0c0c"/><rect x="592" y="513" width="21" height="9" fill="#101010"/><rect x="592" y="505" width="21" height="8" fill="#141414"/><rect x="592" y="496" width="21" height="9" fill="#181818"/><rect x="592" y="487" width="21" height="9" fill="#1c1c1c"/><rect x="592" y="479" width="21" height="8" fill="#202020"/><rect x="592" y="470" width="21" height="9" fill="#242424"/><rect x="592" y="461" width="21" height="9" fill="#282828"/><rect x="592" y="453" width="21" height="8" fill="#2d2d2d"/><rect x="592" y="444" width="21" height="9" fill="#313131"/><rect x="592" y="435" width="21" height="9" fill="#353535"/><rect x="592" y="426" width="21" height="9" fill="#393939"/><rect x="592" y="418" width="21" height="8" fill="#3d3d3d"/><rect x="592" y="409" width="21" height="9" fill="#414141"/><rect x="592" y="400" width="21" height="9" fill="#454545"/><rect x="592" y="392" width="21" height="8" fill="#494949"/><rect x="592" y="383" width="21" height="9" fill="#4d4d4d"/><rect x="592" y="374" width="21" height="9" fill="#515151"/><rect x="592" y="366" width="21" height="8" fill="#555555"/><rect x="592" y="357" width="21" height="9" fill="#595959"/><rect x="592" y="348" width="21" height="9" fill="#5d5d5d"/><rect x="592" y="339" width="21" height="9" fill="#616161"/><rect x="592" y="331" width="21" height="8" fill="#656565"/><rect x="592" y="322" width="21" height="9" fill="#696969"/><rect x="592" y="313" width="21" height="9" fill="#6d6d6d"/><rect x="592" y="305" width="21" height="8" fill="#717171"/><rect x="592" y="296" width="21" height="9" fill="#757575"/><rect x="592" y="287" width="21" height="9" fill="#797979"/><rect x="592" y="278" width="21" height="9" fill="#7d7d7d"/><rect x="592" y="270" width="21" height="8" fill="#828282"/><rect x="592" y="261" width="21" height="9" fill="#868686"/><rect x="592" y="252" width="21" height="9" fill="#8a8a8a"/><rect x="592" y="244" width="21" height="8" fill="#8e8e8e"/><rect x="592" y="235" width="21" height="9" fill="#929292"/><rect x="592" y="226" width="21" height="9" fill="#969696"/><rect x="592" y="218" width="21" height="8" fill="#9a9a9a"/><rect x="592" y="209" width="21" height="9" fill="#9e9e9e"/><rect x="592" y="200" width="21" height="9" fill="#a2a2a2"/><rect x="592" y="191" width="21" height="9" fill="#a6a6a6"/><rect x="592" y="183" width="21" height="8" fill="#aaaaaa"/><rect x="592" y="174" width="21" height="9" fill="#aeaeae"/><rect x="592" y="165" width="21" height="9" fill="#b2b2b2"/><rect x="592" y="157" width="21" height="8" fill="#b6b6b6"/><rect x="592" y="148" width="21" height="9" fill="#bababa"/><rect x="592" y="139" width="21" height="9" fill="#bebebe"/><rect x="592" y="131" width="21" height="8" fill="#c2c2c2"/><rect x="592" y="122" width="21" height="9" fill="#c6c6c6"/><rect x="592" y="113" width="21" height="9" fill="#cacaca"/><rect x="592" y="104" width="21" height="9" fill="#cecece"/><rect x="592" y="96" width="21" height="8" fill="#d2d2d2"/><rect x="592" y="87" width="21" height="9" fill="#d7d7d7"/><rect x="592" y="78" width="21" height="9" fill="#dbdbdb"/><rect x="592" y="70" width="21" height="8" fill="#dfdfdf"/><rect x="592" y="61" width="21" height="9" fill="#e3e3e3"/><rect x="592" y="52" width="21" height="9" fill="#e7e7e7"/><rect x="592" y="44" width="21" height="8" fill="#ebebeb"/><rect x="592" y="35" width="21" height="9" fill="#efefef"/><rect x="592" y="26" width="21" height="9" fill="#f3f3f3"/><rect x="592" y="17" width="21" height="9" fill="#f7f7f7"/><rect x="592" y="9" width="21" height="8" fill="#fbfbfb"/><rect x="592" y="0" width="21" height="9" fill="#ffffff"/></g>
<rect class="ax" x="592.5" y=".5" width="20" height="556"/>
<g class="ct">
<text transform="translate(620.4,567.3) scale(1,1.10)">160</text>
<text transform="translate(620.4,503.61) scale(1,1.10)">180</text>
<text transform="translate(620.4,439.91) scale(1,1.10)">200</text>
<text transform="translate(620.4,376.22) scale(1,1.10)">220</text>
<text transform="translate(620.4,312.52) scale(1,1.10)">240</text>
<text transform="translate(620.4,248.83) scale(1,1.10)">260</text>
<text transform="translate(620.4,185.13) scale(1,1.10)">280</text>
<text transform="translate(620.4,121.44) scale(1,1.10)">300</text>
<text transform="translate(620.4,57.74) scale(1,1.10)">320</text>
</g>
<path class="ax" d="M613 493.5h-5M613 429.5h-5M613 366.5h-5M613 302.5h-5M613 238.5h-5M613 175.5h-5M613 112.5h-5M613 47.5h-5"/>
<text class="cl" transform="translate(691,279.1) rotate(-90)">Sce (photon/s/W/(atoms/m<tspan dy="-13" font-size="20">2</tspan><tspan dy="13">))</tspan></text>
</g>
<g transform="translate(99,878)">
<text class="ti" x="300.7" y="-53.4">Muztagh Ata</text>
<g class="hm">
<rect x="0" y="0" width="347" height="62" fill="#717171"/>
<rect x="347" y="0" width="31" height="62" fill="#6d6d6d"/>
<rect x="378" y="0" width="16" height="62" fill="#717171"/>
<rect x="394" y="0" width="15" height="62" fill="#6d6d6d"/>
<rect x="409" y="0" width="173" height="62" fill="#717171"/>
<rect x="0" y="62" width="32" height="62" fill="#4d4d4d"/>
<rect x="32" y="62" width="47" height="62" fill="#515151"/>
<rect x="79" y="62" width="16" height="62" fill="#555555"/>
<rect x="95" y="62" width="16" height="62" fill="#595959"/>
<rect x="111" y="62" width="15" height="62" fill="#5d5d5d"/>
<rect x="126" y="62" width="16" height="62" fill="#656565"/>
<rect x="142" y="62" width="16" height="62" fill="#696969"/>
<rect x="158" y="62" width="15" height="62" fill="#717171"/>
<rect x="173" y="62" width="16" height="62" fill="#797979"/>
<rect x="189" y="62" width="16" height="62" fill="#828282"/>
<rect x="205" y="62" width="16" height="62" fill="#8a8a8a"/>
<rect x="221" y="62" width="15" height="62" fill="#8e8e8e"/>
<rect x="236" y="62" width="16" height="62" fill="#969696"/>
<rect x="252" y="62" width="16" height="62" fill="#9a9a9a"/>
<rect x="268" y="62" width="63" height="62" fill="#9e9e9e"/>
<rect x="331" y="62" width="16" height="62" fill="#9a9a9a"/>
<rect x="347" y="62" width="15" height="62" fill="#929292"/>
<rect x="362" y="62" width="16" height="62" fill="#8e8e8e"/>
<rect x="378" y="62" width="16" height="62" fill="#868686"/>
<rect x="394" y="62" width="15" height="62" fill="#7d7d7d"/>
<rect x="409" y="62" width="16" height="62" fill="#757575"/>
<rect x="425" y="62" width="16" height="62" fill="#6d6d6d"/>
<rect x="441" y="62" width="16" height="62" fill="#696969"/>
<rect x="457" y="62" width="15" height="62" fill="#616161"/>
<rect x="472" y="62" width="16" height="62" fill="#5d5d5d"/>
<rect x="488" y="62" width="16" height="62" fill="#595959"/>
<rect x="504" y="62" width="16" height="62" fill="#555555"/>
<rect x="520" y="62" width="31" height="62" fill="#515151"/>
<rect x="551" y="62" width="31" height="62" fill="#4d4d4d"/>
<rect x="0" y="124" width="63" height="62" fill="#393939"/>
<rect x="63" y="124" width="16" height="62" fill="#3d3d3d"/>
<rect x="79" y="124" width="16" height="62" fill="#414141"/>
<rect x="95" y="124" width="16" height="62" fill="#454545"/>
<rect x="111" y="124" width="15" height="62" fill="#494949"/>
<rect x="126" y="124" width="16" height="62" fill="#515151"/>
<rect x="142" y="124" width="16" height="62" fill="#5d5d5d"/>
<rect x="158" y="124" width="15" height="62" fill="#656565"/>
<rect x="173" y="124" width="16" height="62" fill="#757575"/>
<rect x="189" y="124" width="16" height="62" fill="#868686"/>
<rect x="205" y="124" width="16" height="62" fill="#969696"/>
<rect x="221" y="124" width="15" height="62" fill="#a6a6a6"/>
<rect x="236" y="124" width="16" height="62" fill="#b6b6b6"/>
<rect x="252" y="124" width="16" height="62" fill="#c6c6c6"/>
<rect x="268" y="124" width="16" height="62" fill="#cecece"/>
<rect x="284" y="124" width="31" height="62" fill="#d2d2d2"/>
<rect x="315" y="124" width="16" height="62" fill="#cacaca"/>
<rect x="331" y="124" width="16" height="62" fill="#bebebe"/>
<rect x="347" y="124" width="15" height="62" fill="#b2b2b2"/>
<rect x="362" y="124" width="16" height="62" fill="#a2a2a2"/>
<rect x="378" y="124" width="16" height="62" fill="#8e8e8e"/>
<rect x="394" y="124" width="15" height="62" fill="#7d7d7d"/>
<rect x="409" y="124" width="16" height="62" fill="#717171"/>
<rect x="425" y="124" width="16" height="62" fill="#616161"/>
<rect x="441" y="124" width="16" height="62" fill="#555555"/>
<rect x="457" y="124" width="15" height="62" fill="#4d4d4d"/>
<rect x="472" y="124" width="16" height="62" fill="#494949"/>
<rect x="488" y="124" width="16" height="62" fill="#414141"/>
<rect x="504" y="124" width="31" height="62" fill="#3d3d3d"/>
<rect x="535" y="124" width="47" height="62" fill="#393939"/>
<rect x="0" y="186" width="63" height="62" fill="#282828"/>
<rect x="63" y="186" width="16" height="62" fill="#2d2d2d"/>
<rect x="79" y="186" width="16" height="62" fill="#313131"/>
<rect x="95" y="186" width="16" height="62" fill="#353535"/>
<rect x="111" y="186" width="15" height="62" fill="#393939"/>
<rect x="126" y="186" width="16" height="62" fill="#414141"/>
<rect x="142" y="186" width="16" height="62" fill="#494949"/>
<rect x="158" y="186" width="15" height="62" fill="#555555"/>
<rect x="173" y="186" width="16" height="62" fill="#656565"/>
<rect x="189" y="186" width="16" height="62" fill="#797979"/>
<rect x="205" y="186" width="16" height="62" fill="#8e8e8e"/>
<rect x="221" y="186" width="15" height="62" fill="#a6a6a6"/>
<rect x="236" y="186" width="16" height="62" fill="#bebebe"/>
<rect x="252" y="186" width="16" height="62" fill="#d7d7d7"/>
<rect x="268" y="186" width="16" height="62" fill="#e7e7e7"/>
<rect x="284" y="186" width="15" height="62" fill="#f3f3f3"/>
<rect x="299" y="186" width="16" height="62" fill="#efefef"/>
<rect x="315" y="186" width="16" height="62" fill="#e3e3e3"/>
<rect x="331" y="186" width="16" height="62" fill="#cacaca"/>
<rect x="347" y="186" width="15" height="62" fill="#b6b6b6"/>
<rect x="362" y="186" width="16" height="62" fill="#9e9e9e"/>
<rect x="378" y="186" width="16" height="62" fill="#868686"/>
<rect x="394" y="186" width="15" height="62" fill="#717171"/>
<rect x="409" y="186" width="16" height="62" fill="#5d5d5d"/>
<rect x="425" y="186" width="16" height="62" fill="#515151"/>
<rect x="441" y="186" width="16" height="62" fill="#454545"/>
<rect x="457" y="186" width="15" height="62" fill="#3d3d3d"/>
<rect x="472" y="186" width="16" height="62" fill="#393939"/>
<rect x="488" y="186" width="16" height="62" fill="#353535"/>
<rect x="504" y="186" width="16" height="62" fill="#313131"/>
<rect x="520" y="186" width="15" height="62" fill="#2d2d2d"/>
<rect x="535" y="186" width="47" height="62" fill="#282828"/>
<rect x="0" y="248" width="79" height="62" fill="#202020"/>
<rect x="79" y="248" width="16" height="62" fill="#242424"/>
<rect x="95" y="248" width="16" height="62" fill="#282828"/>
<rect x="111" y="248" width="15" height="62" fill="#2d2d2d"/>
<rect x="126" y="248" width="16" height="62" fill="#313131"/>
<rect x="142" y="248" width="16" height="62" fill="#393939"/>
<rect x="158" y="248" width="15" height="62" fill="#414141"/>
<rect x="173" y="248" width="16" height="62" fill="#515151"/>
<rect x="189" y="248" width="16" height="62" fill="#616161"/>
<rect x="205" y="248" width="16" height="62" fill="#797979"/>
<rect x="221" y="248" width="15" height="62" fill="#929292"/>
<rect x="236" y="248" width="16" height="62" fill="#aaaaaa"/>
<rect x="252" y="248" width="16" height="62" fill="#c6c6c6"/>
<rect x="268" y="248" width="16" height="62" fill="#dbdbdb"/>
<rect x="284" y="248" width="31" height="62" fill="#e3e3e3"/>
<rect x="315" y="248" width="16" height="62" fill="#d2d2d2"/>
<rect x="331" y="248" width="16" height="62" fill="#bababa"/>
<rect x="347" y="248" width="15" height="62" fill="#a2a2a2"/>
<rect x="362" y="248" width="16" height="62" fill="#868686"/>
<rect x="378" y="248" width="16" height="62" fill="#6d6d6d"/>
<rect x="394" y="248" width="15" height="62" fill="#595959"/>
<rect x="409" y="248" width="16" height="62" fill="#494949"/>
<rect x="425" y="248" width="16" height="62" fill="#3d3d3d"/>
<rect x="441" y="248" width="16" height="62" fill="#353535"/>
<rect x="457" y="248" width="15" height="62" fill="#313131"/>
<rect x="472" y="248" width="32" height="62" fill="#282828"/>
<rect x="504" y="248" width="16" height="62" fill="#242424"/>
<rect x="520" y="248" width="62" height="62" fill="#202020"/>
<rect x="0" y="310" width="95" height="62" fill="#1c1c1c"/>
<rect x="95" y="310" width="16" height="62" fill="#202020"/>
<rect x="111" y="310" width="15" height="62" fill="#242424"/>
<rect x="126" y="310" width="16" height="62" fill="#282828"/>
<rect x="142" y="310" width="16" height="62" fill="#2d2d2d"/>
<rect x="158" y="310" width="15" height="62" fill="#353535"/>
<rect x="173" y="310" width="16" height="62" fill="#3d3d3d"/>
<rect x="189" y="310" width="16" height="62" fill="#494949"/>
<rect x="205" y="310" width="16" height="62" fill="#5d5d5d"/>
<rect x="221" y="310" width="15" height="62" fill="#717171"/>
<rect x="236" y="310" width="16" height="62" fill="#8a8a8a"/>
<rect x="252" y="310" width="16" height="62" fill="#9e9e9e"/>
<rect x="268" y="310" width="16" height="62" fill="#b2b2b2"/>
<rect x="284" y="310" width="15" height="62" fill="#bababa"/>
<rect x="299" y="310" width="16" height="62" fill="#b6b6b6"/>
<rect x="315" y="310" width="16" height="62" fill="#aaaaaa"/>
<rect x="331" y="310" width="16" height="62" fill="#969696"/>
<rect x="347" y="310" width="15" height="62" fill="#7d7d7d"/>
<rect x="362" y="310" width="16" height="62" fill="#696969"/>
<rect x="378" y="310" width="16" height="62" fill="#555555"/>
<rect x="394" y="310" width="15" height="62" fill="#454545"/>
<rect x="409" y="310" width="16" height="62" fill="#393939"/>
<rect x="425" y="310" width="16" height="62" fill="#313131"/>
<rect x="441" y="310" width="16" height="62" fill="#282828"/>
<rect x="457" y="310" width="15" height="62" fill="#242424"/>
<rect x="472" y="310" width="32" height="62" fill="#202020"/>
<rect x="504" y="310" width="78" height="62" fill="#1c1c1c"/>
<rect x="0" y="372" width="79" height="61" fill="#181818"/>
<rect x="79" y="372" width="47" height="61" fill="#1c1c1c"/>
<rect x="126" y="372" width="16" height="61" fill="#202020"/>
<rect x="142" y="372" width="16" height="61" fill="#242424"/>
<rect x="158" y="372" width="15" height="61" fill="#282828"/>
<rect x="173" y="372" width="16" height="61" fill="#313131"/>
<rect x="189" y="372" width="16" height="61" fill="#393939"/>
<rect x="205" y="372" width="16" height="61" fill="#454545"/>
<rect x="221" y="372" width="15" height="61" fill="#515151"/>
<rect x="236" y="372" width="16" height="61" fill="#656565"/>
<rect x="252" y="372" width="16" height="61" fill="#757575"/>
<rect x="268" y="372" width="16" height="61" fill="#828282"/>
<rect x="284" y="372" width="31" height="61" fill="#868686"/>
<rect x="315" y="372" width="16" height="61" fill="#7d7d7d"/>
<rect x="331" y="372" width="16" height="61" fill="#6d6d6d"/>
<rect x="347" y="372" width="15" height="61" fill="#5d5d5d"/>
<rect x="362" y="372" width="16" height="61" fill="#4d4d4d"/>
<rect x="378" y="372" width="16" height="61" fill="#414141"/>
<rect x="394" y="372" width="15" height="61" fill="#353535"/>
<rect x="409" y="372" width="16" height="61" fill="#2d2d2d"/>
<rect x="425" y="372" width="16" height="61" fill="#282828"/>
<rect x="441" y="372" width="31" height="61" fill="#202020"/>
<rect x="472" y="372" width="32" height="61" fill="#1c1c1c"/>
<rect x="504" y="372" width="78" height="61" fill="#181818"/>
<rect x="0" y="433" width="126" height="62" fill="#1c1c1c"/>
<rect x="126" y="433" width="32" height="62" fill="#202020"/>
<rect x="158" y="433" width="15" height="62" fill="#242424"/>
<rect x="173" y="433" width="16" height="62" fill="#282828"/>
<rect x="189" y="433" width="16" height="62" fill="#313131"/>
<rect x="205" y="433" width="16" height="62" fill="#393939"/>
<rect x="221" y="433" width="15" height="62" fill="#414141"/>
<rect x="236" y="433" width="16" height="62" fill="#494949"/>
<rect x="252" y="433" width="16" height="62" fill="#515151"/>
<rect x="268" y="433" width="16" height="62" fill="#595959"/>
<rect x="284" y="433" width="31" height="62" fill="#5d5d5d"/>
<rect x="315" y="433" width="16" height="62" fill="#555555"/>
<rect x="331" y="433" width="16" height="62" fill="#4d4d4d"/>
<rect x="347" y="433" width="15" height="62" fill="#454545"/>
<rect x="362" y="433" width="16" height="62" fill="#3d3d3d"/>
<rect x="378" y="433" width="16" height="62" fill="#353535"/>
<rect x="394" y="433" width="15" height="62" fill="#2d2d2d"/>
<rect x="409" y="433" width="16" height="62" fill="#282828"/>
<rect x="425" y="433" width="32" height="62" fill="#202020"/>
<rect x="457" y="433" width="125" height="62" fill="#1c1c1c"/>
<rect x="0" y="495" width="32" height="62" fill="#313131"/>
<rect x="32" y="495" width="31" height="62" fill="#2d2d2d"/>
<rect x="63" y="495" width="16" height="62" fill="#282828"/>
<rect x="79" y="495" width="16" height="62" fill="#242424"/>
<rect x="95" y="495" width="47" height="62" fill="#202020"/>
<rect x="142" y="495" width="31" height="62" fill="#242424"/>
<rect x="173" y="495" width="16" height="62" fill="#282828"/>
<rect x="189" y="495" width="16" height="62" fill="#2d2d2d"/>
<rect x="205" y="495" width="16" height="62" fill="#313131"/>
<rect x="221" y="495" width="15" height="62" fill="#353535"/>
<rect x="236" y="495" width="16" height="62" fill="#3d3d3d"/>
<rect x="252" y="495" width="16" height="62" fill="#414141"/>
<rect x="268" y="495" width="16" height="62" fill="#454545"/>
<rect x="284" y="495" width="31" height="62" fill="#494949"/>
<rect x="315" y="495" width="16" height="62" fill="#454545"/>
<rect x="331" y="495" width="16" height="62" fill="#414141"/>
<rect x="347" y="495" width="15" height="62" fill="#393939"/>
<rect x="362" y="495" width="16" height="62" fill="#353535"/>
<rect x="378" y="495" width="16" height="62" fill="#313131"/>
<rect x="394" y="495" width="31" height="62" fill="#282828"/>
<rect x="425" y="495" width="32" height="62" fill="#242424"/>
<rect x="457" y="495" width="47" height="62" fill="#202020"/>
<rect x="504" y="495" width="16" height="62" fill="#242424"/>
<rect x="520" y="495" width="15" height="62" fill="#282828"/>
<rect x="535" y="495" width="16" height="62" fill="#2d2d2d"/>
<rect x="551" y="495" width="31" height="62" fill="#313131"/>
</g>
<path class="ax" d="M0 .5H581.5V556.5H0M8.5 557v-6M8.5 0v6M87.5 557v-6M87.5 0v6M165.5 557v-6M165.5 0v6M244.5 557v-6M244.5 0v6M322.5 557v-6M322.5 0v6M401.5 557v-6M401.5 0v6M479.5 557v-6M479.5 0v6M558.5 557v-6M558.5 0v6M0 526.5h6M582 526.5h-6M0 402.5h6M582 402.5h-6M0 279.5h6M582 279.5h-6M0 155.5h6M582 155.5h-6M0 31.5h6M582 31.5h-6"/>
<g class="tk xt">
<text transform="translate(8.7,591.4) scale(1,1.10)">0</text>
<text transform="translate(87.26,591.4) scale(1,1.10)">50</text>
<text transform="translate(165.82,591.4) scale(1,1.10)">100</text>
<text transform="translate(244.38,591.4) scale(1,1.10)">150</text>
<text transform="translate(322.94,591.4) scale(1,1.10)">200</text>
<text transform="translate(401.5,591.4) scale(1,1.10)">250</text>
<text transform="translate(480.06,591.4) scale(1,1.10)">300</text>
<text transform="translate(558.62,591.4) scale(1,1.10)">350</text>
</g>
<g class="tk yt">
<text transform="translate(-7.5,535.8) scale(1,1.10)">10</text>
<text transform="translate(-7.5,412.3) scale(1,1.10)">30</text>
<text transform="translate(-7.5,288.8) scale(1,1.10)">50</text>
<text transform="translate(-7.5,164.8) scale(1,1.10)">70</text>
<text transform="translate(-7.5,40.8) scale(1,1.10)">90</text>
</g>
<text class="xl" x="291.6" y="644.6">Azimuth angle (degree)</text>
<text class="xl" transform="translate(-72.6,278.5) rotate(-90)">Elevation angle (degree)</text>
<g class="hm"><rect x="592" y="548" width="21" height="9" fill="#000000"/><rect x="592" y="540" width="21" height="8" fill="#040404"/><rect x="592" y="531" width="21" height="9" fill="#080808"/><rect x="592" y="522" width="21" height="9" fill="#0c0c0c"/><rect x="592" y="513" width="21" height="9" fill="#101010"/><rect x="592" y="505" width="21" height="8" fill="#141414"/><rect x="592" y="496" width="21" height="9" fill="#181818"/><rect x="592" y="487" width="21" height="9" fill="#1c1c1c"/><rect x="592" y="479" width="21" height="8" fill="#202020"/><rect x="592" y="470" width="21" height="9" fill="#242424"/><rect x="592" y="461" width="21" height="9" fill="#282828"/><rect x="592" y="453" width="21" height="8" fill="#2d2d2d"/><rect x="592" y="444" width="21" height="9" fill="#313131"/><rect x="592" y="435" width="21" height="9" fill="#353535"/><rect x="592" y="426" width="21" height="9" fill="#393939"/><rect x="592" y="418" width="21" height="8" fill="#3d3d3d"/><rect x="592" y="409" width="21" height="9" fill="#414141"/><rect x="592" y="400" width="21" height="9" fill="#454545"/><rect x="592" y="392" width="21" height="8" fill="#494949"/><rect x="592" y="383" width="21" height="9" fill="#4d4d4d"/><rect x="592" y="374" width="21" height="9" fill="#515151"/><rect x="592" y="366" width="21" height="8" fill="#555555"/><rect x="592" y="357" width="21" height="9" fill="#595959"/><rect x="592" y="348" width="21" height="9" fill="#5d5d5d"/><rect x="592" y="339" width="21" height="9" fill="#616161"/><rect x="592" y="331" width="21" height="8" fill="#656565"/><rect x="592" y="322" width="21" height="9" fill="#696969"/><rect x="592" y="313" width="21" height="9" fill="#6d6d6d"/><rect x="592" y="305" width="21" height="8" fill="#717171"/><rect x="592" y="296" width="21" height="9" fill="#757575"/><rect x="592" y="287" width="21" height="9" fill="#797979"/><rect x="592" y="278" width="21" height="9" fill="#7d7d7d"/><rect x="592" y="270" width="21" height="8" fill="#828282"/><rect x="592" y="261" width="21" height="9" fill="#868686"/><rect x="592" y="252" width="21" height="9" fill="#8a8a8a"/><rect x="592" y="244" width="21" height="8" fill="#8e8e8e"/><rect x="592" y="235" width="21" height="9" fill="#929292"/><rect x="592" y="226" width="21" height="9" fill="#969696"/><rect x="592" y="218" width="21" height="8" fill="#9a9a9a"/><rect x="592" y="209" width="21" height="9" fill="#9e9e9e"/><rect x="592" y="200" width="21" height="9" fill="#a2a2a2"/><rect x="592" y="191" width="21" height="9" fill="#a6a6a6"/><rect x="592" y="183" width="21" height="8" fill="#aaaaaa"/><rect x="592" y="174" width="21" height="9" fill="#aeaeae"/><rect x="592" y="165" width="21" height="9" fill="#b2b2b2"/><rect x="592" y="157" width="21" height="8" fill="#b6b6b6"/><rect x="592" y="148" width="21" height="9" fill="#bababa"/><rect x="592" y="139" width="21" height="9" fill="#bebebe"/><rect x="592" y="131" width="21" height="8" fill="#c2c2c2"/><rect x="592" y="122" width="21" height="9" fill="#c6c6c6"/><rect x="592" y="113" width="21" height="9" fill="#cacaca"/><rect x="592" y="104" width="21" height="9" fill="#cecece"/><rect x="592" y="96" width="21" height="8" fill="#d2d2d2"/><rect x="592" y="87" width="21" height="9" fill="#d7d7d7"/><rect x="592" y="78" width="21" height="9" fill="#dbdbdb"/><rect x="592" y="70" width="21" height="8" fill="#dfdfdf"/><rect x="592" y="61" width="21" height="9" fill="#e3e3e3"/><rect x="592" y="52" width="21" height="9" fill="#e7e7e7"/><rect x="592" y="44" width="21" height="8" fill="#ebebeb"/><rect x="592" y="35" width="21" height="9" fill="#efefef"/><rect x="592" y="26" width="21" height="9" fill="#f3f3f3"/><rect x="592" y="17" width="21" height="9" fill="#f7f7f7"/><rect x="592" y="9" width="21" height="8" fill="#fbfbfb"/><rect x="592" y="0" width="21" height="9" fill="#ffffff"/></g>
<rect class="ax" x="592.5" y=".5" width="20" height="556"/>
<g class="ct">
<text transform="translate(620.4,567.3) scale(1,1.10)">160</text>
<text transform="translate(620.4,503.61) scale(1,1.10)">180</text>
<text transform="translate(620.4,439.91) scale(1,1.10)">200</text>
<text transform="translate(620.4,376.22) scale(1,1.10)">220</text>
<text transform="translate(620.4,312.52) scale(1,1.10)">240</text>
<text transform="translate(620.4,248.83) scale(1,1.10)">260</text>
<text transform="translate(620.4,185.13) scale(1,1.10)">280</text>
<text transform="translate(620.4,121.44) scale(1,1.10)">300</text>
<text transform="translate(620.4,57.74) scale(1,1.10)">320</text>
</g>
<path class="ax" d="M613 493.5h-5M613 429.5h-5M613 366.5h-5M613 302.5h-5M613 238.5h-5M613 175.5h-5M613 112.5h-5M613 47.5h-5"/>
<text class="cl" transform="translate(691,279.1) rotate(-90)">Sce (photon/s/W/(atoms/m<tspan dy="-13" font-size="20">2</tspan><tspan dy="13">))</tspan></text>
</g>
<g transform="translate(920,869)">
<text class="ti" x="300.7" y="-44.2">Ali</text>
<g class="hm">
<rect x="0" y="0" width="48" height="62" fill="#5d5d5d"/>
<rect x="48" y="0" width="15" height="62" fill="#595959"/>
<rect x="63" y="0" width="142" height="62" fill="#5d5d5d"/>
<rect x="205" y="0" width="157" height="62" fill="#595959"/>
<rect x="362" y="0" width="16" height="62" fill="#5d5d5d"/>
<rect x="378" y="0" width="31" height="62" fill="#595959"/>
<rect x="409" y="0" width="111" height="62" fill="#5d5d5d"/>
<rect x="520" y="0" width="31" height="62" fill="#595959"/>
<rect x="551" y="0" width="31" height="62" fill="#5d5d5d"/>
<rect x="0" y="62" width="48" height="62" fill="#3d3d3d"/>
<rect x="48" y="62" width="31" height="62" fill="#414141"/>
<rect x="79" y="62" width="16" height="62" fill="#454545"/>
<rect x="95" y="62" width="16" height="62" fill="#494949"/>
<rect x="111" y="62" width="15" height="62" fill="#4d4d4d"/>
<rect x="126" y="62" width="16" height="62" fill="#515151"/>
<rect x="142" y="62" width="16" height="62" fill="#595959"/>
<rect x="158" y="62" width="15" height="62" fill="#5d5d5d"/>
<rect x="173" y="62" width="16" height="62" fill="#656565"/>
<rect x="189" y="62" width="16" height="62" fill="#696969"/>
<rect x="205" y="62" width="16" height="62" fill="#6d6d6d"/>
<rect x="221" y="62" width="15" height="62" fill="#717171"/>
<rect x="236" y="62" width="16" height="62" fill="#797979"/>
<rect x="252" y="62" width="79" height="62" fill="#7d7d7d"/>
<rect x="331" y="62" width="16" height="62" fill="#797979"/>
<rect x="347" y="62" width="15" height="62" fill="#757575"/>
<rect x="362" y="62" width="16" height="62" fill="#6d6d6d"/>
<rect x="378" y="62" width="16" height="62" fill="#696969"/>
<rect x="394" y="62" width="15" height="62" fill="#656565"/>
<rect x="409" y="62" width="16" height="62" fill="#616161"/>
<rect x="425" y="62" width="16" height="62" fill="#595959"/>
<rect x="441" y="62" width="16" height="62" fill="#555555"/>
<rect x="457" y="62" width="15" height="62" fill="#4d4d4d"/>
<rect x="472" y="62" width="16" height="62" fill="#494949"/>
<rect x="488" y="62" width="16" height="62" fill="#454545"/>
<rect x="504" y="62" width="47" height="62" fill="#414141"/>
<rect x="551" y="62" width="31" height="62" fill="#3d3d3d"/>
<rect x="0" y="124" width="63" height="62" fill="#313131"/>
<rect x="63" y="124" width="32" height="62" fill="#353535"/>
<rect x="95" y="124" width="16" height="62" fill="#393939"/>
<rect x="111" y="124" width="15" height="62" fill="#3d3d3d"/>
<rect x="126" y="124" width="16" height="62" fill="#454545"/>
<rect x="142" y="124" width="16" height="62" fill="#4d4d4d"/>
<rect x="158" y="124" width="15" height="62" fill="#595959"/>
<rect x="173" y="124" width="16" height="62" fill="#656565"/>
<rect x="189" y="124" width="16" height="62" fill="#6d6d6d"/>
<rect x="205" y="124" width="16" height="62" fill="#797979"/>
<rect x="221" y="124" width="15" height="62" fill="#8a8a8a"/>
<rect x="236" y="124" width="16" height="62" fill="#9a9a9a"/>
<rect x="252" y="124" width="16" height="62" fill="#a6a6a6"/>
<rect x="268" y="124" width="47" height="62" fill="#aeaeae"/>
<rect x="315" y="124" width="16" height="62" fill="#a6a6a6"/>
<rect x="331" y="124" width="16" height="62" fill="#9a9a9a"/>
<rect x="347" y="124" width="15" height="62" fill="#8e8e8e"/>
<rect x="362" y="124" width="16" height="62" fill="#7d7d7d"/>
<rect x="378" y="124" width="16" height="62" fill="#717171"/>
<rect x="394" y="124" width="15" height="62" fill="#656565"/>
<rect x="409" y="124" width="16" height="62" fill="#5d5d5d"/>
<rect x="425" y="124" width="16" height="62" fill="#4d4d4d"/>
<rect x="441" y="124" width="16" height="62" fill="#454545"/>
<rect x="457" y="124" width="15" height="62" fill="#3d3d3d"/>
<rect x="472" y="124" width="32" height="62" fill="#393939"/>
<rect x="504" y="124" width="16" height="62" fill="#353535"/>
<rect x="520" y="124" width="62" height="62" fill="#313131"/>
<rect x="0" y="186" width="48" height="62" fill="#242424"/>
<rect x="48" y="186" width="31" height="62" fill="#282828"/>
<rect x="79" y="186" width="16" height="62" fill="#2d2d2d"/>
<rect x="95" y="186" width="16" height="62" fill="#313131"/>
<rect x="111" y="186" width="15" height="62" fill="#353535"/>
<rect x="126" y="186" width="16" height="62" fill="#393939"/>
<rect x="142" y="186" width="16" height="62" fill="#414141"/>
<rect x="158" y="186" width="15" height="62" fill="#4d4d4d"/>
<rect x="173" y="186" width="16" height="62" fill="#5d5d5d"/>
<rect x="189" y="186" width="16" height="62" fill="#6d6d6d"/>
<rect x="205" y="186" width="16" height="62" fill="#7d7d7d"/>
<rect x="221" y="186" width="15" height="62" fill="#969696"/>
<rect x="236" y="186" width="16" height="62" fill="#aeaeae"/>
<rect x="252" y="186" width="16" height="62" fill="#c6c6c6"/>
<rect x="268" y="186" width="16" height="62" fill="#d7d7d7"/>
<rect x="284" y="186" width="15" height="62" fill="#dfdfdf"/>
<rect x="299" y="186" width="16" height="62" fill="#dbdbdb"/>
<rect x="315" y="186" width="16" height="62" fill="#cacaca"/>
<rect x="331" y="186" width="16" height="62" fill="#b2b2b2"/>
<rect x="347" y="186" width="15" height="62" fill="#9a9a9a"/>
<rect x="362" y="186" width="16" height="62" fill="#828282"/>
<rect x="378" y="186" width="16" height="62" fill="#717171"/>
<rect x="394" y="186" width="15" height="62" fill="#616161"/>
<rect x="409" y="186" width="16" height="62" fill="#515151"/>
<rect x="425" y="186" width="16" height="62" fill="#414141"/>
<rect x="441" y="186" width="16" height="62" fill="#393939"/>
<rect x="457" y="186" width="15" height="62" fill="#353535"/>
<rect x="472" y="186" width="16" height="62" fill="#313131"/>
<rect x="488" y="186" width="16" height="62" fill="#2d2d2d"/>
<rect x="504" y="186" width="31" height="62" fill="#282828"/>
<rect x="535" y="186" width="47" height="62" fill="#242424"/>
<rect x="0" y="248" width="63" height="62" fill="#202020"/>
<rect x="63" y="248" width="32" height="62" fill="#242424"/>
<rect x="95" y="248" width="16" height="62" fill="#282828"/>
<rect x="111" y="248" width="15" height="62" fill="#2d2d2d"/>
<rect x="126" y="248" width="16" height="62" fill="#313131"/>
<rect x="142" y="248" width="16" height="62" fill="#393939"/>
<rect x="158" y="248" width="15" height="62" fill="#414141"/>
<rect x="173" y="248" width="16" height="62" fill="#4d4d4d"/>
<rect x="189" y="248" width="16" height="62" fill="#616161"/>
<rect x="205" y="248" width="16" height="62" fill="#757575"/>
<rect x="221" y="248" width="15" height="62" fill="#929292"/>
<rect x="236" y="248" width="16" height="62" fill="#b2b2b2"/>
<rect x="252" y="248" width="16" height="62" fill="#cecece"/>
<rect x="268" y="248" width="16" height="62" fill="#ebebeb"/>
<rect x="284" y="248" width="15" height="62" fill="#f7f7f7"/>
<rect x="299" y="248" width="16" height="62" fill="#efefef"/>
<rect x="315" y="248" width="16" height="62" fill="#d7d7d7"/>
<rect x="331" y="248" width="16" height="62" fill="#b6b6b6"/>
<rect x="347" y="248" width="15" height="62" fill="#969696"/>
<rect x="362" y="248" width="16" height="62" fill="#797979"/>
<rect x="378" y="248" width="16" height="62" fill="#656565"/>
<rect x="394" y="248" width="15" height="62" fill="#515151"/>
<rect x="409" y="248" width="16" height="62" fill="#414141"/>
<rect x="425" y="248" width="16" height="62" fill="#393939"/>
<rect x="441" y="248" width="16" height="62" fill="#313131"/>
<rect x="457" y="248" width="15" height="62" fill="#2d2d2d"/>
<rect x="472" y="248" width="16" height="62" fill="#282828"/>
<rect x="488" y="248" width="32" height="62" fill="#242424"/>
<rect x="520" y="248" width="62" height="62" fill="#202020"/>
<rect x="0" y="310" width="111" height="62" fill="#202020"/>
<rect x="111" y="310" width="15" height="62" fill="#242424"/>
<rect x="126" y="310" width="16" height="62" fill="#282828"/>
<rect x="142" y="310" width="16" height="62" fill="#2d2d2d"/>
<rect x="158" y="310" width="15" height="62" fill="#353535"/>
<rect x="173" y="310" width="16" height="62" fill="#414141"/>
<rect x="189" y="310" width="16" height="62" fill="#515151"/>
<rect x="205" y="310" width="16" height="62" fill="#656565"/>
<rect x="221" y="310" width="15" height="62" fill="#7d7d7d"/>
<rect x="236" y="310" width="16" height="62" fill="#9e9e9e"/>
<rect x="252" y="310" width="16" height="62" fill="#bababa"/>
<rect x="268" y="310" width="16" height="62" fill="#d2d2d2"/>
<rect x="284" y="310" width="15" height="62" fill="#dfdfdf"/>
<rect x="299" y="310" width="16" height="62" fill="#d7d7d7"/>
<rect x="315" y="310" width="16" height="62" fill="#c2c2c2"/>
<rect x="331" y="310" width="16" height="62" fill="#a2a2a2"/>
<rect x="347" y="310" width="15" height="62" fill="#868686"/>
<rect x="362" y="310" width="16" height="62" fill="#696969"/>
<rect x="378" y="310" width="16" height="62" fill="#555555"/>
<rect x="394" y="310" width="15" height="62" fill="#414141"/>
<rect x="409" y="310" width="16" height="62" fill="#393939"/>
<rect x="425" y="310" width="16" height="62" fill="#313131"/>
<rect x="441" y="310" width="16" height="62" fill="#282828"/>
<rect x="457" y="310" width="15" height="62" fill="#242424"/>
<rect x="472" y="310" width="110" height="62" fill="#202020"/>
<rect x="0" y="372" width="126" height="61" fill="#202020"/>
<rect x="126" y="372" width="16" height="61" fill="#242424"/>
<rect x="142" y="372" width="16" height="61" fill="#282828"/>
<rect x="158" y="372" width="15" height="61" fill="#2d2d2d"/>
<rect x="173" y="372" width="16" height="61" fill="#353535"/>
<rect x="189" y="372" width="16" height="61" fill="#414141"/>
<rect x="205" y="372" width="16" height="61" fill="#515151"/>
<rect x="221" y="372" width="15" height="61" fill="#656565"/>
<rect x="236" y="372" width="16" height="61" fill="#7d7d7d"/>
<rect x="252" y="372" width="16" height="61" fill="#969696"/>
<rect x="268" y="372" width="16" height="61" fill="#a6a6a6"/>
<rect x="284" y="372" width="15" height="61" fill="#aeaeae"/>
<rect x="299" y="372" width="16" height="61" fill="#aaaaaa"/>
<rect x="315" y="372" width="16" height="61" fill="#9a9a9a"/>
<rect x="331" y="372" width="16" height="61" fill="#828282"/>
<rect x="347" y="372" width="15" height="61" fill="#696969"/>
<rect x="362" y="372" width="16" height="61" fill="#555555"/>
<rect x="378" y="372" width="16" height="61" fill="#414141"/>
<rect x="394" y="372" width="15" height="61" fill="#393939"/>
<rect x="409" y="372" width="16" height="61" fill="#2d2d2d"/>
<rect x="425" y="372" width="16" height="61" fill="#282828"/>
<rect x="441" y="372" width="16" height="61" fill="#242424"/>
<rect x="457" y="372" width="125" height="61" fill="#202020"/>
<rect x="0" y="433" width="48" height="62" fill="#282828"/>
<rect x="48" y="433" width="94" height="62" fill="#242424"/>
<rect x="142" y="433" width="31" height="62" fill="#282828"/>
<rect x="173" y="433" width="16" height="62" fill="#313131"/>
<rect x="189" y="433" width="16" height="62" fill="#393939"/>
<rect x="205" y="433" width="16" height="62" fill="#414141"/>
<rect x="221" y="433" width="15" height="62" fill="#515151"/>
<rect x="236" y="433" width="16" height="62" fill="#656565"/>
<rect x="252" y="433" width="16" height="62" fill="#717171"/>
<rect x="268" y="433" width="16" height="62" fill="#7d7d7d"/>
<rect x="284" y="433" width="31" height="62" fill="#828282"/>
<rect x="315" y="433" width="16" height="62" fill="#757575"/>
<rect x="331" y="433" width="16" height="62" fill="#696969"/>
<rect x="347" y="433" width="15" height="62" fill="#555555"/>
<rect x="362" y="433" width="16" height="62" fill="#454545"/>
<rect x="378" y="433" width="16" height="62" fill="#393939"/>
<rect x="394" y="433" width="15" height="62" fill="#313131"/>
<rect x="409" y="433" width="16" height="62" fill="#2d2d2d"/>
<rect x="425" y="433" width="16" height="62" fill="#282828"/>
<rect x="441" y="433" width="94" height="62" fill="#242424"/>
<rect x="535" y="433" width="47" height="62" fill="#282828"/>
<rect x="0" y="495" width="32" height="62" fill="#393939"/>
<rect x="32" y="495" width="16" height="62" fill="#353535"/>
<rect x="48" y="495" width="15" height="62" fill="#313131"/>
<rect x="63" y="495" width="16" height="62" fill="#2d2d2d"/>
<rect x="79" y="495" width="16" height="62" fill="#282828"/>
<rect x="95" y="495" width="63" height="62" fill="#242424"/>
<rect x="158" y="495" width="31" height="62" fill="#282828"/>
<rect x="189" y="495" width="16" height="62" fill="#313131"/>
<rect x="205" y="495" width="16" height="62" fill="#393939"/>
<rect x="221" y="495" width="15" height="62" fill="#414141"/>
<rect x="236" y="495" width="16" height="62" fill="#494949"/>
<rect x="252" y="495" width="16" height="62" fill="#555555"/>
<rect x="268" y="495" width="16" height="62" fill="#5d5d5d"/>
<rect x="284" y="495" width="31" height="62" fill="#616161"/>
<rect x="315" y="495" width="16" height="62" fill="#595959"/>
<rect x="331" y="495" width="16" height="62" fill="#4d4d4d"/>
<rect x="347" y="495" width="15" height="62" fill="#414141"/>
<rect x="362" y="495" width="16" height="62" fill="#393939"/>
<rect x="378" y="495" width="16" height="62" fill="#313131"/>
<rect x="394" y="495" width="15" height="62" fill="#2d2d2d"/>
<rect x="409" y="495" width="16" height="62" fill="#282828"/>
<rect x="425" y="495" width="63" height="62" fill="#242424"/>
<rect x="488" y="495" width="16" height="62" fill="#282828"/>
<rect x="504" y="495" width="16" height="62" fill="#2d2d2d"/>
<rect x="520" y="495" width="15" height="62" fill="#313131"/>
<rect x="535" y="495" width="16" height="62" fill="#353535"/>
<rect x="551" y="495" width="31" height="62" fill="#393939"/>
</g>
<path class="ax" d="M0 .5H581.5V556.5H0M8.5 557v-6M8.5 0v6M87.5 557v-6M87.5 0v6M165.5 557v-6M165.5 0v6M244.5 557v-6M244.5 0v6M322.5 557v-6M322.5 0v6M401.5 557v-6M401.5 0v6M479.5 557v-6M479.5 0v6M558.5 557v-6M558.5 0v6M0 526.5h6M582 526.5h-6M0 402.5h6M582 402.5h-6M0 279.5h6M582 279.5h-6M0 155.5h6M582 155.5h-6M0 31.5h6M582 31.5h-6"/>
<g class="tk xt">
<text transform="translate(8.7,591.4) scale(1,1.10)">0</text>
<text transform="translate(87.26,591.4) scale(1,1.10)">50</text>
<text transform="translate(165.82,591.4) scale(1,1.10)">100</text>
<text transform="translate(244.38,591.4) scale(1,1.10)">150</text>
<text transform="translate(322.94,591.4) scale(1,1.10)">200</text>
<text transform="translate(401.5,591.4) scale(1,1.10)">250</text>
<text transform="translate(480.06,591.4) scale(1,1.10)">300</text>
<text transform="translate(558.62,591.4) scale(1,1.10)">350</text>
</g>
<g class="tk yt">
<text transform="translate(-7.5,535.8) scale(1,1.10)">10</text>
<text transform="translate(-7.5,412.3) scale(1,1.10)">30</text>
<text transform="translate(-7.5,288.8) scale(1,1.10)">50</text>
<text transform="translate(-7.5,164.8) scale(1,1.10)">70</text>
<text transform="translate(-7.5,40.8) scale(1,1.10)">90</text>
</g>
<text class="xl" x="291.6" y="644.6">Azimuth angle (degree)</text>
<text class="xl" transform="translate(-72.6,278.5) rotate(-90)">Elevation angle (degree)</text>
<g class="hm"><rect x="592" y="548" width="21" height="9" fill="#000000"/><rect x="592" y="540" width="21" height="8" fill="#040404"/><rect x="592" y="531" width="21" height="9" fill="#080808"/><rect x="592" y="522" width="21" height="9" fill="#0c0c0c"/><rect x="592" y="513" width="21" height="9" fill="#101010"/><rect x="592" y="505" width="21" height="8" fill="#141414"/><rect x="592" y="496" width="21" height="9" fill="#181818"/><rect x="592" y="487" width="21" height="9" fill="#1c1c1c"/><rect x="592" y="479" width="21" height="8" fill="#202020"/><rect x="592" y="470" width="21" height="9" fill="#242424"/><rect x="592" y="461" width="21" height="9" fill="#282828"/><rect x="592" y="453" width="21" height="8" fill="#2d2d2d"/><rect x="592" y="444" width="21" height="9" fill="#313131"/><rect x="592" y="435" width="21" height="9" fill="#353535"/><rect x="592" y="426" width="21" height="9" fill="#393939"/><rect x="592" y="418" width="21" height="8" fill="#3d3d3d"/><rect x="592" y="409" width="21" height="9" fill="#414141"/><rect x="592" y="400" width="21" height="9" fill="#454545"/><rect x="592" y="392" width="21" height="8" fill="#494949"/><rect x="592" y="383" width="21" height="9" fill="#4d4d4d"/><rect x="592" y="374" width="21" height="9" fill="#515151"/><rect x="592" y="366" width="21" height="8" fill="#555555"/><rect x="592" y="357" width="21" height="9" fill="#595959"/><rect x="592" y="348" width="21" height="9" fill="#5d5d5d"/><rect x="592" y="339" width="21" height="9" fill="#616161"/><rect x="592" y="331" width="21" height="8" fill="#656565"/><rect x="592" y="322" width="21" height="9" fill="#696969"/><rect x="592" y="313" width="21" height="9" fill="#6d6d6d"/><rect x="592" y="305" width="21" height="8" fill="#717171"/><rect x="592" y="296" width="21" height="9" fill="#757575"/><rect x="592" y="287" width="21" height="9" fill="#797979"/><rect x="592" y="278" width="21" height="9" fill="#7d7d7d"/><rect x="592" y="270" width="21" height="8" fill="#828282"/><rect x="592" y="261" width="21" height="9" fill="#868686"/><rect x="592" y="252" width="21" height="9" fill="#8a8a8a"/><rect x="592" y="244" width="21" height="8" fill="#8e8e8e"/><rect x="592" y="235" width="21" height="9" fill="#929292"/><rect x="592" y="226" width="21" height="9" fill="#969696"/><rect x="592" y="218" width="21" height="8" fill="#9a9a9a"/><rect x="592" y="209" width="21" height="9" fill="#9e9e9e"/><rect x="592" y="200" width="21" height="9" fill="#a2a2a2"/><rect x="592" y="191" width="21" height="9" fill="#a6a6a6"/><rect x="592" y="183" width="21" height="8" fill="#aaaaaa"/><rect x="592" y="174" width="21" height="9" fill="#aeaeae"/><rect x="592" y="165" width="21" height="9" fill="#b2b2b2"/><rect x="592" y="157" width="21" height="8" fill="#b6b6b6"/><rect x="592" y="148" width="21" height="9" fill="#bababa"/><rect x="592" y="139" width="21" height="9" fill="#bebebe"/><rect x="592" y="131" width="21" height="8" fill="#c2c2c2"/><rect x="592" y="122" width="21" height="9" fill="#c6c6c6"/><rect x="592" y="113" width="21" height="9" fill="#cacaca"/><rect x="592" y="104" width="21" height="9" fill="#cecece"/><rect x="592" y="96" width="21" height="8" fill="#d2d2d2"/><rect x="592" y="87" width="21" height="9" fill="#d7d7d7"/><rect x="592" y="78" width="21" height="9" fill="#dbdbdb"/><rect x="592" y="70" width="21" height="8" fill="#dfdfdf"/><rect x="592" y="61" width="21" height="9" fill="#e3e3e3"/><rect x="592" y="52" width="21" height="9" fill="#e7e7e7"/><rect x="592" y="44" width="21" height="8" fill="#ebebeb"/><rect x="592" y="35" width="21" height="9" fill="#efefef"/><rect x="592" y="26" width="21" height="9" fill="#f3f3f3"/><rect x="592" y="17" width="21" height="9" fill="#f7f7f7"/><rect x="592" y="9" width="21" height="8" fill="#fbfbfb"/><rect x="592" y="0" width="21" height="9" fill="#ffffff"/></g>
<rect class="ax" x="592.5" y=".5" width="20" height="556"/>
<g class="ct">
<text transform="translate(620.4,567.3) scale(1,1.10)">160</text>
<text transform="translate(620.4,503.61) scale(1,1.10)">180</text>
<text transform="translate(620.4,439.91) scale(1,1.10)">200</text>
<text transform="translate(620.4,376.22) scale(1,1.10)">220</text>
<text transform="translate(620.4,312.52) scale(1,1.10)">240</text>
<text transform="translate(620.4,248.83) scale(1,1.10)">260</text>
<text transform="translate(620.4,185.13) scale(1,1.10)">280</text>
<text transform="translate(620.4,121.44) scale(1,1.10)">300</text>
<text transform="translate(620.4,57.74) scale(1,1.10)">320</text>
</g>
<path class="ax" d="M613 493.5h-5M613 429.5h-5M613 366.5h-5M613 302.5h-5M613 238.5h-5M613 175.5h-5M613 112.5h-5M613 47.5h-5"/>
<text class="cl" transform="translate(691,279.1) rotate(-90)">Sce (photon/s/W/(atoms/m<tspan dy="-13" font-size="20">2</tspan><tspan dy="13">))</tspan></text>
</g>
<g transform="translate(509,1675)">
<text class="ti" x="300.7" y="-53.4">Gaomeigu</text>
<g class="hm">
<rect x="0" y="0" width="16" height="62" fill="#454545"/>
<rect x="16" y="0" width="32" height="62" fill="#494949"/>
<rect x="48" y="0" width="15" height="62" fill="#454545"/>
<rect x="63" y="0" width="32" height="62" fill="#494949"/>
<rect x="95" y="0" width="16" height="62" fill="#454545"/>
<rect x="111" y="0" width="110" height="62" fill="#494949"/>
<rect x="221" y="0" width="15" height="62" fill="#454545"/>
<rect x="236" y="0" width="32" height="62" fill="#494949"/>
<rect x="268" y="0" width="16" height="62" fill="#454545"/>
<rect x="284" y="0" width="78" height="62" fill="#494949"/>
<rect x="362" y="0" width="16" height="62" fill="#454545"/>
<rect x="378" y="0" width="79" height="62" fill="#494949"/>
<rect x="457" y="0" width="31" height="62" fill="#454545"/>
<rect x="488" y="0" width="94" height="62" fill="#494949"/>
<rect x="0" y="62" width="79" height="62" fill="#393939"/>
<rect x="79" y="62" width="32" height="62" fill="#3d3d3d"/>
<rect x="111" y="62" width="15" height="62" fill="#414141"/>
<rect x="126" y="62" width="32" height="62" fill="#454545"/>
<rect x="158" y="62" width="15" height="62" fill="#494949"/>
<rect x="173" y="62" width="16" height="62" fill="#4d4d4d"/>
<rect x="189" y="62" width="16" height="62" fill="#515151"/>
<rect x="205" y="62" width="16" height="62" fill="#555555"/>
<rect x="221" y="62" width="15" height="62" fill="#595959"/>
<rect x="236" y="62" width="16" height="62" fill="#5d5d5d"/>
<rect x="252" y="62" width="32" height="62" fill="#616161"/>
<rect x="284" y="62" width="15" height="62" fill="#656565"/>
<rect x="299" y="62" width="32" height="62" fill="#616161"/>
<rect x="331" y="62" width="16" height="62" fill="#5d5d5d"/>
<rect x="347" y="62" width="15" height="62" fill="#595959"/>
<rect x="362" y="62" width="16" height="62" fill="#555555"/>
<rect x="378" y="62" width="16" height="62" fill="#515151"/>
<rect x="394" y="62" width="15" height="62" fill="#4d4d4d"/>
<rect x="409" y="62" width="16" height="62" fill="#494949"/>
<rect x="425" y="62" width="32" height="62" fill="#454545"/>
<rect x="457" y="62" width="15" height="62" fill="#414141"/>
<rect x="472" y="62" width="32" height="62" fill="#3d3d3d"/>
<rect x="504" y="62" width="78" height="62" fill="#393939"/>
<rect x="0" y="124" width="16" height="62" fill="#282828"/>
<rect x="16" y="124" width="47" height="62" fill="#2d2d2d"/>
<rect x="63" y="124" width="32" height="62" fill="#313131"/>
<rect x="95" y="124" width="16" height="62" fill="#353535"/>
<rect x="111" y="124" width="15" height="62" fill="#393939"/>
<rect x="126" y="124" width="16" height="62" fill="#3d3d3d"/>
<rect x="142" y="124" width="16" height="62" fill="#414141"/>
<rect x="158" y="124" width="15" height="62" fill="#494949"/>
<rect x="173" y="124" width="16" height="62" fill="#515151"/>
<rect x="189" y="124" width="16" height="62" fill="#595959"/>
<rect x="205" y="124" width="16" height="62" fill="#656565"/>
<rect x="221" y="124" width="15" height="62" fill="#717171"/>
<rect x="236" y="124" width="16" height="62" fill="#797979"/>
<rect x="252" y="124" width="16" height="62" fill="#828282"/>
<rect x="268" y="124" width="16" height="62" fill="#868686"/>
<rect x="284" y="124" width="15" height="62" fill="#8a8a8a"/>
<rect x="299" y="124" width="16" height="62" fill="#868686"/>
<rect x="315" y="124" width="16" height="62" fill="#828282"/>
<rect x="331" y="124" width="16" height="62" fill="#797979"/>
<rect x="347" y="124" width="15" height="62" fill="#717171"/>
<rect x="362" y="124" width="16" height="62" fill="#656565"/>
<rect x="378" y="124" width="16" height="62" fill="#595959"/>
<rect x="394" y="124" width="15" height="62" fill="#515151"/>
<rect x="409" y="124" width="16" height="62" fill="#494949"/>
<rect x="425" y="124" width="16" height="62" fill="#414141"/>
<rect x="441" y="124" width="16" height="62" fill="#3d3d3d"/>
<rect x="457" y="124" width="15" height="62" fill="#393939"/>
<rect x="472" y="124" width="16" height="62" fill="#353535"/>
<rect x="488" y="124" width="32" height="62" fill="#313131"/>
<rect x="520" y="124" width="47" height="62" fill="#2d2d2d"/>
<rect x="567" y="124" width="15" height="62" fill="#282828"/>
<rect x="0" y="186" width="63" height="62" fill="#242424"/>
<rect x="63" y="186" width="32" height="62" fill="#282828"/>
<rect x="95" y="186" width="16" height="62" fill="#2d2d2d"/>
<rect x="111" y="186" width="15" height="62" fill="#313131"/>
<rect x="126" y="186" width="16" height="62" fill="#353535"/>
<rect x="142" y="186" width="16" height="62" fill="#3d3d3d"/>
<rect x="158" y="186" width="15" height="62" fill="#454545"/>
<rect x="173" y="186" width="16" height="62" fill="#515151"/>
<rect x="189" y="186" width="16" height="62" fill="#5d5d5d"/>
<rect x="205" y="186" width="16" height="62" fill="#6d6d6d"/>
<rect x="221" y="186" width="15" height="62" fill="#828282"/>
<rect x="236" y="186" width="16" height="62" fill="#969696"/>
<rect x="252" y="186" width="16" height="62" fill="#a6a6a6"/>
<rect x="268" y="186" width="16" height="62" fill="#b2b2b2"/>
<rect x="284" y="186" width="15" height="62" fill="#bababa"/>
<rect x="299" y="186" width="16" height="62" fill="#b2b2b2"/>
<rect x="315" y="186" width="16" height="62" fill="#a6a6a6"/>
<rect x="331" y="186" width="16" height="62" fill="#969696"/>
<rect x="347" y="186" width="15" height="62" fill="#828282"/>
<rect x="362" y="186" width="16" height="62" fill="#6d6d6d"/>
<rect x="378" y="186" width="16" height="62" fill="#5d5d5d"/>
<rect x="394" y="186" width="15" height="62" fill="#515151"/>
<rect x="409" y="186" width="16" height="62" fill="#454545"/>
<rect x="425" y="186" width="16" height="62" fill="#3d3d3d"/>
<rect x="441" y="186" width="16" height="62" fill="#353535"/>
<rect x="457" y="186" width="15" height="62" fill="#313131"/>
<rect x="472" y="186" width="16" height="62" fill="#2d2d2d"/>
<rect x="488" y="186" width="32" height="62" fill="#282828"/>
<rect x="520" y="186" width="62" height="62" fill="#242424"/>
<rect x="0" y="248" width="63" height="62" fill="#202020"/>
<rect x="63" y="248" width="32" height="62" fill="#242424"/>
<rect x="95" y="248" width="31" height="62" fill="#282828"/>
<rect x="126" y="248" width="16" height="62" fill="#313131"/>
<rect x="142" y="248" width="16" height="62" fill="#353535"/>
<rect x="158" y="248" width="15" height="62" fill="#414141"/>
<rect x="173" y="248" width="16" height="62" fill="#494949"/>
<rect x="189" y="248" width="16" height="62" fill="#5d5d5d"/>
<rect x="205" y="248" width="16" height="62" fill="#717171"/>
<rect x="221" y="248" width="15" height="62" fill="#8a8a8a"/>
<rect x="236" y="248" width="16" height="62" fill="#aaaaaa"/>
<rect x="252" y="248" width="16" height="62" fill="#c6c6c6"/>
<rect x="268" y="248" width="16" height="62" fill="#dbdbdb"/>
<rect x="284" y="248" width="15" height="62" fill="#e3e3e3"/>
<rect x="299" y="248" width="16" height="62" fill="#dbdbdb"/>
<rect x="315" y="248" width="16" height="62" fill="#c6c6c6"/>
<rect x="331" y="248" width="16" height="62" fill="#aaaaaa"/>
<rect x="347" y="248" width="15" height="62" fill="#8a8a8a"/>
<rect x="362" y="248" width="16" height="62" fill="#717171"/>
<rect x="378" y="248" width="16" height="62" fill="#5d5d5d"/>
<rect x="394" y="248" width="15" height="62" fill="#494949"/>
<rect x="409" y="248" width="16" height="62" fill="#414141"/>
<rect x="425" y="248" width="16" height="62" fill="#353535"/>
<rect x="441" y="248" width="16" height="62" fill="#313131"/>
<rect x="457" y="248" width="31" height="62" fill="#282828"/>
<rect x="488" y="248" width="32" height="62" fill="#242424"/>
<rect x="520" y="248" width="62" height="62" fill="#202020"/>
<rect x="0" y="310" width="95" height="62" fill="#202020"/>
<rect x="95" y="310" width="31" height="62" fill="#242424"/>
<rect x="126" y="310" width="16" height="62" fill="#282828"/>
<rect x="142" y="310" width="16" height="62" fill="#313131"/>
<rect x="158" y="310" width="15" height="62" fill="#393939"/>
<rect x="173" y="310" width="16" height="62" fill="#454545"/>
<rect x="189" y="310" width="16" height="62" fill="#555555"/>
<rect x="205" y="310" width="16" height="62" fill="#696969"/>
<rect x="221" y="310" width="15" height="62" fill="#868686"/>
<rect x="236" y="310" width="16" height="62" fill="#aaaaaa"/>
<rect x="252" y="310" width="16" height="62" fill="#cecece"/>
<rect x="268" y="310" width="16" height="62" fill="#ebebeb"/>
<rect x="284" y="310" width="15" height="62" fill="#f7f7f7"/>
<rect x="299" y="310" width="16" height="62" fill="#ebebeb"/>
<rect x="315" y="310" width="16" height="62" fill="#cecece"/>
<rect x="331" y="310" width="16" height="62" fill="#aaaaaa"/>
<rect x="347" y="310" width="15" height="62" fill="#868686"/>
<rect x="362" y="310" width="16" height="62" fill="#696969"/>
<rect x="378" y="310" width="16" height="62" fill="#555555"/>
<rect x="394" y="310" width="15" height="62" fill="#454545"/>
<rect x="409" y="310" width="16" height="62" fill="#393939"/>
<rect x="425" y="310" width="16" height="62" fill="#313131"/>
<rect x="441" y="310" width="16" height="62" fill="#282828"/>
<rect x="457" y="310" width="31" height="62" fill="#242424"/>
<rect x="488" y="310" width="94" height="62" fill="#202020"/>
<rect x="0" y="372" width="16" height="61" fill="#282828"/>
<rect x="16" y="372" width="63" height="61" fill="#242424"/>
<rect x="79" y="372" width="32" height="61" fill="#202020"/>
<rect x="111" y="372" width="31" height="61" fill="#242424"/>
<rect x="142" y="372" width="16" height="61" fill="#282828"/>
<rect x="158" y="372" width="15" height="61" fill="#313131"/>
<rect x="173" y="372" width="16" height="61" fill="#3d3d3d"/>
<rect x="189" y="372" width="16" height="61" fill="#494949"/>
<rect x="205" y="372" width="16" height="61" fill="#5d5d5d"/>
<rect x="221" y="372" width="15" height="61" fill="#797979"/>
<rect x="236" y="372" width="16" height="61" fill="#9a9a9a"/>
<rect x="252" y="372" width="16" height="61" fill="#bebebe"/>
<rect x="268" y="372" width="16" height="61" fill="#d7d7d7"/>
<rect x="284" y="372" width="15" height="61" fill="#e3e3e3"/>
<rect x="299" y="372" width="16" height="61" fill="#d7d7d7"/>
<rect x="315" y="372" width="16" height="61" fill="#bebebe"/>
<rect x="331" y="372" width="16" height="61" fill="#9a9a9a"/>
<rect x="347" y="372" width="15" height="61" fill="#797979"/>
<rect x="362" y="372" width="16" height="61" fill="#5d5d5d"/>
<rect x="378" y="372" width="16" height="61" fill="#494949"/>
<rect x="394" y="372" width="15" height="61" fill="#3d3d3d"/>
<rect x="409" y="372" width="16" height="61" fill="#313131"/>
<rect x="425" y="372" width="16" height="61" fill="#282828"/>
<rect x="441" y="372" width="31" height="61" fill="#242424"/>
<rect x="472" y="372" width="32" height="61" fill="#202020"/>
<rect x="504" y="372" width="63" height="61" fill="#242424"/>
<rect x="567" y="372" width="15" height="61" fill="#282828"/>
<rect x="0" y="433" width="16" height="62" fill="#353535"/>
<rect x="16" y="433" width="32" height="62" fill="#313131"/>
<rect x="48" y="433" width="15" height="62" fill="#2d2d2d"/>
<rect x="63" y="433" width="32" height="62" fill="#242424"/>
<rect x="95" y="433" width="31" height="62" fill="#202020"/>
<rect x="126" y="433" width="32" height="62" fill="#242424"/>
<rect x="158" y="433" width="15" height="62" fill="#282828"/>
<rect x="173" y="433" width="16" height="62" fill="#353535"/>
<rect x="189" y="433" width="16" height="62" fill="#414141"/>
<rect x="205" y="433" width="16" height="62" fill="#4d4d4d"/>
<rect x="221" y="433" width="15" height="62" fill="#616161"/>
<rect x="236" y="433" width="16" height="62" fill="#7d7d7d"/>
<rect x="252" y="433" width="16" height="62" fill="#969696"/>
<rect x="268" y="433" width="16" height="62" fill="#aaaaaa"/>
<rect x="284" y="433" width="15" height="62" fill="#b2b2b2"/>
<rect x="299" y="433" width="16" height="62" fill="#aaaaaa"/>
<rect x="315" y="433" width="16" height="62" fill="#969696"/>
<rect x="331" y="433" width="16" height="62" fill="#7d7d7d"/>
<rect x="347" y="433" width="15" height="62" fill="#616161"/>
<rect x="362" y="433" width="16" height="62" fill="#4d4d4d"/>
<rect x="378" y="433" width="16" height="62" fill="#414141"/>
<rect x="394" y="433" width="15" height="62" fill="#353535"/>
<rect x="409" y="433" width="16" height="62" fill="#282828"/>
<rect x="425" y="433" width="32" height="62" fill="#242424"/>
<rect x="457" y="433" width="31" height="62" fill="#202020"/>
<rect x="488" y="433" width="32" height="62" fill="#242424"/>
<rect x="520" y="433" width="15" height="62" fill="#2d2d2d"/>
<rect x="535" y="433" width="32" height="62" fill="#313131"/>
<rect x="567" y="433" width="15" height="62" fill="#353535"/>
<rect x="0" y="495" width="32" height="62" fill="#494949"/>
<rect x="32" y="495" width="16" height="62" fill="#454545"/>
<rect x="48" y="495" width="15" height="62" fill="#3d3d3d"/>
<rect x="63" y="495" width="16" height="62" fill="#353535"/>
<rect x="79" y="495" width="16" height="62" fill="#2d2d2d"/>
<rect x="95" y="495" width="16" height="62" fill="#282828"/>
<rect x="111" y="495" width="31" height="62" fill="#242424"/>
<rect x="142" y="495" width="16" height="62" fill="#282828"/>
<rect x="158" y="495" width="15" height="62" fill="#2d2d2d"/>
<rect x="173" y="495" width="16" height="62" fill="#313131"/>
<rect x="189" y="495" width="16" height="62" fill="#393939"/>
<rect x="205" y="495" width="16" height="62" fill="#454545"/>
<rect x="221" y="495" width="15" height="62" fill="#555555"/>
<rect x="236" y="495" width="16" height="62" fill="#696969"/>
<rect x="252" y="495" width="16" height="62" fill="#797979"/>
<rect x="268" y="495" width="16" height="62" fill="#8a8a8a"/>
<rect x="284" y="495" width="15" height="62" fill="#8e8e8e"/>
<rect x="299" y="495" width="16" height="62" fill="#8a8a8a"/>
<rect x="315" y="495" width="16" height="62" fill="#797979"/>
<rect x="331" y="495" width="16" height="62" fill="#696969"/>
<rect x="347" y="495" width="15" height="62" fill="#555555"/>
<rect x="362" y="495" width="16" height="62" fill="#454545"/>
<rect x="378" y="495" width="16" height="62" fill="#393939"/>
<rect x="394" y="495" width="15" height="62" fill="#313131"/>
<rect x="409" y="495" width="16" height="62" fill="#2d2d2d"/>
<rect x="425" y="495" width="16" height="62" fill="#282828"/>
<rect x="441" y="495" width="31" height="62" fill="#242424"/>
<rect x="472" y="495" width="16" height="62" fill="#282828"/>
<rect x="488" y="495" width="16" height="62" fill="#2d2d2d"/>
<rect x="504" y="495" width="16" height="62" fill="#353535"/>
<rect x="520" y="495" width="15" height="62" fill="#3d3d3d"/>
<rect x="535" y="495" width="16" height="62" fill="#454545"/>
<rect x="551" y="495" width="31" height="62" fill="#494949"/>
</g>
<path class="ax" d="M0 .5H581.5V556.5H0M8.5 557v-6M8.5 0v6M87.5 557v-6M87.5 0v6M165.5 557v-6M165.5 0v6M244.5 557v-6M244.5 0v6M322.5 557v-6M322.5 0v6M401.5 557v-6M401.5 0v6M479.5 557v-6M479.5 0v6M558.5 557v-6M558.5 0v6M0 526.5h6M582 526.5h-6M0 402.5h6M582 402.5h-6M0 279.5h6M582 279.5h-6M0 155.5h6M582 155.5h-6M0 31.5h6M582 31.5h-6"/>
<g class="tk xt">
<text transform="translate(8.7,591.4) scale(1,1.10)">0</text>
<text transform="translate(87.26,591.4) scale(1,1.10)">50</text>
<text transform="translate(165.82,591.4) scale(1,1.10)">100</text>
<text transform="translate(244.38,591.4) scale(1,1.10)">150</text>
<text transform="translate(322.94,591.4) scale(1,1.10)">200</text>
<text transform="translate(401.5,591.4) scale(1,1.10)">250</text>
<text transform="translate(480.06,591.4) scale(1,1.10)">300</text>
<text transform="translate(558.62,591.4) scale(1,1.10)">350</text>
</g>
<g class="tk yt">
<text transform="translate(-7.5,535.8) scale(1,1.10)">10</text>
<text transform="translate(-7.5,412.3) scale(1,1.10)">30</text>
<text transform="translate(-7.5,288.8) scale(1,1.10)">50</text>
<text transform="translate(-7.5,164.8) scale(1,1.10)">70</text>
<text transform="translate(-7.5,40.8) scale(1,1.10)">90</text>
</g>
<text class="xl" x="291.6" y="644.6">Azimuth angle (degree)</text>
<text class="xl" transform="translate(-72.6,278.5) rotate(-90)">Elevation angle (degree)</text>
<g class="hm"><rect x="592" y="548" width="21" height="9" fill="#000000"/><rect x="592" y="540" width="21" height="8" fill="#040404"/><rect x="592" y="531" width="21" height="9" fill="#080808"/><rect x="592" y="522" width="21" height="9" fill="#0c0c0c"/><rect x="592" y="513" width="21" height="9" fill="#101010"/><rect x="592" y="505" width="21" height="8" fill="#141414"/><rect x="592" y="496" width="21" height="9" fill="#181818"/><rect x="592" y="487" width="21" height="9" fill="#1c1c1c"/><rect x="592" y="479" width="21" height="8" fill="#202020"/><rect x="592" y="470" width="21" height="9" fill="#242424"/><rect x="592" y="461" width="21" height="9" fill="#282828"/><rect x="592" y="453" width="21" height="8" fill="#2d2d2d"/><rect x="592" y="444" width="21" height="9" fill="#313131"/><rect x="592" y="435" width="21" height="9" fill="#353535"/><rect x="592" y="426" width="21" height="9" fill="#393939"/><rect x="592" y="418" width="21" height="8" fill="#3d3d3d"/><rect x="592" y="409" width="21" height="9" fill="#414141"/><rect x="592" y="400" width="21" height="9" fill="#454545"/><rect x="592" y="392" width="21" height="8" fill="#494949"/><rect x="592" y="383" width="21" height="9" fill="#4d4d4d"/><rect x="592" y="374" width="21" height="9" fill="#515151"/><rect x="592" y="366" width="21" height="8" fill="#555555"/><rect x="592" y="357" width="21" height="9" fill="#595959"/><rect x="592" y="348" width="21" height="9" fill="#5d5d5d"/><rect x="592" y="339" width="21" height="9" fill="#616161"/><rect x="592" y="331" width="21" height="8" fill="#656565"/><rect x="592" y="322" width="21" height="9" fill="#696969"/><rect x="592" y="313" width="21" height="9" fill="#6d6d6d"/><rect x="592" y="305" width="21" height="8" fill="#717171"/><rect x="592" y="296" width="21" height="9" fill="#757575"/><rect x="592" y="287" width="21" height="9" fill="#797979"/><rect x="592" y="278" width="21" height="9" fill="#7d7d7d"/><rect x="592" y="270" width="21" height="8" fill="#828282"/><rect x="592" y="261" width="21" height="9" fill="#868686"/><rect x="592" y="252" width="21" height="9" fill="#8a8a8a"/><rect x="592" y="244" width="21" height="8" fill="#8e8e8e"/><rect x="592" y="235" width="21" height="9" fill="#929292"/><rect x="592" y="226" width="21" height="9" fill="#969696"/><rect x="592" y="218" width="21" height="8" fill="#9a9a9a"/><rect x="592" y="209" width="21" height="9" fill="#9e9e9e"/><rect x="592" y="200" width="21" height="9" fill="#a2a2a2"/><rect x="592" y="191" width="21" height="9" fill="#a6a6a6"/><rect x="592" y="183" width="21" height="8" fill="#aaaaaa"/><rect x="592" y="174" width="21" height="9" fill="#aeaeae"/><rect x="592" y="165" width="21" height="9" fill="#b2b2b2"/><rect x="592" y="157" width="21" height="8" fill="#b6b6b6"/><rect x="592" y="148" width="21" height="9" fill="#bababa"/><rect x="592" y="139" width="21" height="9" fill="#bebebe"/><rect x="592" y="131" width="21" height="8" fill="#c2c2c2"/><rect x="592" y="122" width="21" height="9" fill="#c6c6c6"/><rect x="592" y="113" width="21" height="9" fill="#cacaca"/><rect x="592" y="104" width="21" height="9" fill="#cecece"/><rect x="592" y="96" width="21" height="8" fill="#d2d2d2"/><rect x="592" y="87" width="21" height="9" fill="#d7d7d7"/><rect x="592" y="78" width="21" height="9" fill="#dbdbdb"/><rect x="592" y="70" width="21" height="8" fill="#dfdfdf"/><rect x="592" y="61" width="21" height="9" fill="#e3e3e3"/><rect x="592" y="52" width="21" height="9" fill="#e7e7e7"/><rect x="592" y="44" width="21" height="8" fill="#ebebeb"/><rect x="592" y="35" width="21" height="9" fill="#efefef"/><rect x="592" y="26" width="21" height="9" fill="#f3f3f3"/><rect x="592" y="17" width="21" height="9" fill="#f7f7f7"/><rect x="592" y="9" width="21" height="8" fill="#fbfbfb"/><rect x="592" y="0" width="21" height="9" fill="#ffffff"/></g>
<rect class="ax" x="592.5" y=".5" width="20" height="556"/>
<g class="ct">
<text transform="translate(620.4,567.3) scale(1,1.10)">160</text>
<text transform="translate(620.4,503.61) scale(1,1.10)">180</text>
<text transform="translate(620.4,439.91) scale(1,1.10)">200</text>
<text transform="translate(620.4,376.22) scale(1,1.10)">220</text>
<text transform="translate(620.4,312.52) scale(1,1.10)">240</text>
<text transform="translate(620.4,248.83) scale(1,1.10)">260</text>
<text transform="translate(620.4,185.13) scale(1,1.10)">280</text>
<text transform="translate(620.4,121.44) scale(1,1.10)">300</text>
<text transform="translate(620.4,57.74) scale(1,1.10)">320</text>
</g>
<path class="ax" d="M613 493.5h-5M613 429.5h-5M613 366.5h-5M613 302.5h-5M613 238.5h-5M613 175.5h-5M613 112.5h-5M613 47.5h-5"/>
<text class="cl" transform="translate(691,279.1) rotate(-90)">Sce (photon/s/W/(atoms/m<tspan dy="-13" font-size="20">2</tspan><tspan dy="13">))</tspan></text>
</g>
</svg>
</body></html>
